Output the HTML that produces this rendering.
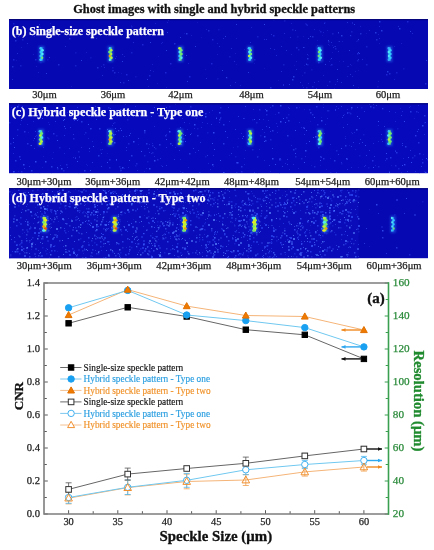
<!DOCTYPE html><html><head><meta charset="utf-8"><style>html,body{margin:0;padding:0;background:#fff;width:434px;height:550px;overflow:hidden}svg{display:block;filter:blur(0.3px)}</style></head><body>
<svg width="434" height="550" viewBox="0 0 434 550" font-family='"Liberation Serif","Times New Roman",serif'>
<defs><filter id="bl" x="-50%" y="-50%" width="200%" height="200%"><feGaussianBlur stdDeviation="0.7"/></filter><filter id="bl2" x="-50%" y="-50%" width="200%" height="200%"><feGaussianBlur stdDeviation="0.5"/></filter><filter id="bln" x="-50%" y="-50%" width="200%" height="200%"><feGaussianBlur stdDeviation="0.6"/></filter><filter id="bl3" x="-50%" y="-50%" width="200%" height="200%"><feGaussianBlur stdDeviation="1.3"/></filter><clipPath id="cb"><rect x="9" y="19" width="419" height="70"/></clipPath><clipPath id="cc"><rect x="9" y="103.2" width="419" height="70"/></clipPath><clipPath id="cd"><rect x="9" y="188.2" width="419" height="70"/></clipPath></defs>
<text x="214.2" y="12.9" font-size="12.4" font-weight="bold" text-anchor="middle" fill="#111" stroke="#111" stroke-width="0.3">Ghost images with single and hybrid speckle patterns</text>
<rect x="9" y="19" width="419" height="70" fill="#0608b2"/>
<g clip-path="url(#cb)"><g filter="url(#bln)">
<path fill="#3040f0" fill-opacity="0.25" d="M32 30h1.5v1.5h-1.5zM16 60h1v1h-1zM47 59h1.5v1.5h-1.5zM40 62h1.5v1.5h-1.5zM75 52h1.5v1.5h-1.5zM21 27h1v1h-1zM71 86h1v1h-1zM43 47h1v1h-1zM40 27h1v1h-1zM112 67h1.5v1.5h-1.5zM135 76h1.5v1.5h-1.5zM131 25h1v1h-1zM90 57h1.5v1.5h-1.5zM121 73h1v1h-1zM157 83h1v1h-1zM158 56h1v1h-1zM217 78h1.5v1.5h-1.5zM201 37h1v1h-1zM197 22h1v1h-1zM184 33h1v1h-1zM218 29h1.5v1.5h-1.5zM205 69h1v1h-1zM264 68h1v1h-1zM254 63h1v1h-1zM278 80h1v1h-1zM273 19h1.5v1.5h-1.5zM236 64h1v1h-1zM322 35h1v1h-1zM338 41h1v1h-1zM302 75h1v1h-1zM356 41h1v1h-1zM339 61h1v1h-1zM358 87h1v1h-1zM303 36h1v1h-1zM334 88h1v1h-1zM350 35h1.5v1.5h-1.5zM330 65h1v1h-1zM319 30h1v1h-1zM329 45h1v1h-1zM332 45h1v1h-1zM308 55h1v1h-1zM297 36h1.5v1.5h-1.5zM320 50h1.5v1.5h-1.5zM324 22h1.5v1.5h-1.5zM311 69h1.5v1.5h-1.5zM351 65h1v1h-1zM358 70h1v1h-1zM319 55h1v1h-1zM304 65h1v1h-1zM317 40h1v1h-1zM332 52h1v1h-1zM305 23h1.5v1.5h-1.5zM294 65h1v1h-1zM357 40h1.5v1.5h-1.5zM330 59h1v1h-1zM403 68h1.5v1.5h-1.5zM366 33h1v1h-1zM377 86h1.5v1.5h-1.5z"/>
<path fill="#3040f0" fill-opacity="0.55" d="M39 24h1v1h-1zM13 59h1.5v1.5h-1.5zM49 32h1.5v1.5h-1.5zM34 36h1v1h-1zM35 59h1.5v1.5h-1.5zM104 67h1v1h-1zM142 44h1.5v1.5h-1.5zM133 42h1v1h-1zM115 58h1v1h-1zM96 38h1v1h-1zM122 54h1v1h-1zM126 74h1.5v1.5h-1.5zM150 70h1v1h-1zM170 63h1.5v1.5h-1.5zM211 63h1.5v1.5h-1.5zM189 76h1.5v1.5h-1.5zM149 75h1.5v1.5h-1.5zM165 72h1.5v1.5h-1.5zM212 39h1.5v1.5h-1.5zM223 38h1v1h-1zM283 84h1v1h-1zM276 55h1v1h-1zM284 33h1v1h-1zM274 49h1v1h-1zM283 85h1v1h-1zM264 39h1v1h-1zM273 35h1.5v1.5h-1.5zM234 61h1v1h-1zM314 82h1v1h-1zM318 62h1.5v1.5h-1.5zM316 88h1v1h-1zM296 47h1.5v1.5h-1.5zM331 64h1.5v1.5h-1.5zM337 81h1v1h-1zM357 53h1.5v1.5h-1.5zM338 51h1v1h-1zM324 23h1v1h-1zM290 37h1v1h-1zM407 21h1.5v1.5h-1.5zM412 33h1v1h-1zM425 83h1.5v1.5h-1.5zM379 26h1v1h-1zM362 59h1v1h-1zM369 30h1v1h-1zM379 38h1v1h-1zM386 74h1.5v1.5h-1.5z"/>
<path fill="#4060ff" fill-opacity="0.25" d="M50 23h1v1h-1zM33 54h1v1h-1zM21 47h1v1h-1zM14 34h1.5v1.5h-1.5zM148 86h1v1h-1zM86 52h1v1h-1zM137 34h1v1h-1zM101 66h1v1h-1zM131 26h1.5v1.5h-1.5zM103 33h1.5v1.5h-1.5zM191 35h1v1h-1zM166 87h1v1h-1zM153 71h1v1h-1zM217 54h1v1h-1zM284 20h1.5v1.5h-1.5zM229 56h1.5v1.5h-1.5zM244 49h1v1h-1zM236 38h1v1h-1zM235 53h1v1h-1zM254 59h1.5v1.5h-1.5zM226 77h1.5v1.5h-1.5zM283 64h1.5v1.5h-1.5zM304 72h1.5v1.5h-1.5zM302 85h1v1h-1zM300 19h1v1h-1zM342 41h1v1h-1zM338 33h1v1h-1zM306 63h1v1h-1zM327 30h1v1h-1zM296 61h1v1h-1zM317 45h1v1h-1zM291 54h1v1h-1zM328 44h1v1h-1zM334 46h1v1h-1zM292 29h1.5v1.5h-1.5zM332 33h1.5v1.5h-1.5zM347 66h1v1h-1zM347 76h1v1h-1zM306 87h1.5v1.5h-1.5zM351 31h1.5v1.5h-1.5zM329 61h1v1h-1zM355 71h1v1h-1zM379 43h1v1h-1zM378 81h1v1h-1z"/>
<path fill="#4060ff" fill-opacity="0.4" d="M12 79h1v1h-1zM15 40h1.5v1.5h-1.5zM12 66h1.5v1.5h-1.5zM58 64h1.5v1.5h-1.5zM18 36h1v1h-1zM69 38h1.5v1.5h-1.5zM65 46h1v1h-1zM27 43h1v1h-1zM17 53h1v1h-1zM97 67h1.5v1.5h-1.5zM102 75h1v1h-1zM114 72h1.5v1.5h-1.5zM108 28h1.5v1.5h-1.5zM174 43h1.5v1.5h-1.5zM206 78h1v1h-1zM150 89h1.5v1.5h-1.5zM208 30h1.5v1.5h-1.5zM266 39h1v1h-1zM286 50h1v1h-1zM235 82h1v1h-1zM230 85h1v1h-1zM270 48h1v1h-1zM277 19h1v1h-1zM231 48h1v1h-1zM270 87h1.5v1.5h-1.5zM250 42h1v1h-1zM281 71h1v1h-1zM271 34h1v1h-1zM281 46h1v1h-1zM219 46h1v1h-1zM335 46h1v1h-1zM341 82h1v1h-1zM339 41h1v1h-1zM296 69h1v1h-1zM331 42h1v1h-1zM350 35h1v1h-1zM295 30h1v1h-1zM347 22h1v1h-1zM300 82h1v1h-1zM307 54h1v1h-1zM333 47h1v1h-1zM358 59h1v1h-1zM350 74h1v1h-1zM312 36h1.5v1.5h-1.5zM376 39h1.5v1.5h-1.5zM389 73h1.5v1.5h-1.5zM398 26h1v1h-1zM360 33h1.5v1.5h-1.5z"/>
<path fill="#3040f0" fill-opacity="0.4" d="M13 23h1.5v1.5h-1.5zM38 72h1v1h-1zM36 66h1v1h-1zM20 65h1.5v1.5h-1.5zM22 39h1.5v1.5h-1.5zM75 65h1.5v1.5h-1.5zM113 70h1v1h-1zM123 82h1.5v1.5h-1.5zM103 64h1.5v1.5h-1.5zM131 52h1.5v1.5h-1.5zM124 56h1v1h-1zM116 56h1v1h-1zM112 70h1.5v1.5h-1.5zM118 72h1v1h-1zM138 29h1v1h-1zM125 29h1v1h-1zM167 22h1v1h-1zM155 23h1v1h-1zM168 20h1v1h-1zM161 43h1v1h-1zM217 43h1v1h-1zM162 42h1v1h-1zM206 29h1v1h-1zM152 64h1v1h-1zM188 63h1v1h-1zM264 24h1v1h-1zM251 27h1v1h-1zM257 36h1.5v1.5h-1.5zM240 85h1v1h-1zM350 64h1v1h-1zM335 84h1v1h-1zM323 32h1v1h-1zM352 23h1v1h-1zM303 87h1v1h-1zM340 89h1v1h-1zM318 81h1v1h-1zM291 23h1v1h-1zM312 86h1.5v1.5h-1.5zM352 76h1v1h-1zM343 61h1v1h-1zM306 24h1.5v1.5h-1.5zM307 25h1v1h-1zM348 66h1v1h-1zM308 83h1v1h-1zM357 60h1.5v1.5h-1.5zM314 29h1v1h-1zM335 48h1.5v1.5h-1.5zM323 75h1v1h-1zM304 47h1v1h-1zM298 49h1.5v1.5h-1.5zM329 81h1.5v1.5h-1.5zM320 31h1.5v1.5h-1.5zM352 22h1v1h-1zM327 85h1v1h-1zM307 64h1.5v1.5h-1.5zM328 41h1.5v1.5h-1.5zM360 26h1v1h-1zM394 79h1v1h-1zM370 19h1v1h-1zM378 34h1v1h-1zM366 64h1.5v1.5h-1.5zM387 47h1.5v1.5h-1.5zM394 46h1v1h-1zM396 72h1.5v1.5h-1.5zM401 43h1v1h-1zM366 46h1.5v1.5h-1.5z"/>
<path fill="#4060ff" fill-opacity="0.55" d="M46 73h1v1h-1zM49 57h1v1h-1zM101 29h1v1h-1zM147 79h1v1h-1zM81 60h1v1h-1zM122 61h1v1h-1zM120 82h1v1h-1zM111 56h1v1h-1zM128 80h1v1h-1zM137 30h1v1h-1zM150 42h1v1h-1zM186 55h1v1h-1zM167 32h1v1h-1zM186 33h1.5v1.5h-1.5zM166 50h1v1h-1zM187 81h1v1h-1zM195 46h1v1h-1zM180 37h1v1h-1zM236 24h1v1h-1zM226 77h1v1h-1zM222 70h1v1h-1zM264 24h1v1h-1zM225 36h1v1h-1zM248 72h1v1h-1zM358 39h1v1h-1zM337 69h1v1h-1zM338 32h1v1h-1zM289 84h1v1h-1zM308 38h1v1h-1zM349 50h1v1h-1zM331 58h1v1h-1zM310 36h1v1h-1zM358 52h1v1h-1zM354 24h1v1h-1zM303 47h1v1h-1zM292 79h1.5v1.5h-1.5zM306 64h1v1h-1zM341 35h1.5v1.5h-1.5zM328 40h1v1h-1zM293 76h1.5v1.5h-1.5zM325 64h1v1h-1zM339 19h1v1h-1zM353 85h1v1h-1zM307 58h1.5v1.5h-1.5zM337 79h1v1h-1zM359 53h1v1h-1zM426 60h1v1h-1zM381 30h1.5v1.5h-1.5zM410 31h1v1h-1zM399 28h1.5v1.5h-1.5zM375 32h1.5v1.5h-1.5zM379 21h1.5v1.5h-1.5zM387 71h1.5v1.5h-1.5z"/>
</g>
<g filter="url(#bl3)">
<rect x="38.6" y="46.0" width="5.8" height="16.0" fill="#2c8cff" opacity="0.45"/>
<rect x="107.6" y="46.0" width="5.8" height="16.0" fill="#2c8cff" opacity="0.45"/>
<rect x="177.6" y="46.0" width="5.8" height="16.0" fill="#2c8cff" opacity="0.45"/>
<rect x="247.1" y="46.0" width="5.8" height="16.0" fill="#2c8cff" opacity="0.45"/>
<rect x="316.8" y="46.0" width="5.8" height="16.0" fill="#2c8cff" opacity="0.45"/>
<rect x="386.6" y="46.0" width="5.8" height="16.0" fill="#2c8cff" opacity="0.45"/>
</g><g filter="url(#bl)">
<rect x="40.4" y="47.4" width="2.2" height="13.2" fill="#30c8ff"/>
<rect x="109.4" y="47.4" width="2.2" height="13.2" fill="#70e870"/>
<rect x="179.4" y="47.4" width="2.2" height="13.2" fill="#70e870"/>
<rect x="248.9" y="47.4" width="2.2" height="13.2" fill="#30c8ff"/>
<rect x="318.6" y="47.4" width="2.2" height="13.2" fill="#30c8ff"/>
<rect x="388.4" y="47.4" width="2.2" height="13.2" fill="#30c8ff"/>
</g><g filter="url(#bl2)">
<ellipse cx="40.6" cy="48.3" rx="1.2" ry="1.25" fill="#30c8ff"/>
<ellipse cx="42.6" cy="50.2" rx="1.2" ry="1.25" fill="#50e8f8"/>
<ellipse cx="40.7" cy="52.1" rx="1.3" ry="1.25" fill="#30c8ff"/>
<ellipse cx="42.5" cy="54.0" rx="1.2" ry="1.25" fill="#50e8f8"/>
<ellipse cx="40.5" cy="55.9" rx="1.1" ry="1.25" fill="#30c8ff"/>
<ellipse cx="42.2" cy="57.8" rx="1.1" ry="1.25" fill="#70e870"/>
<ellipse cx="40.5" cy="59.7" rx="1.2" ry="1.25" fill="#30c8ff"/>
<ellipse cx="109.8" cy="48.3" rx="1.1" ry="1.25" fill="#30c8ff"/>
<ellipse cx="111.4" cy="50.2" rx="1.2" ry="1.25" fill="#b8f040"/>
<ellipse cx="109.4" cy="52.1" rx="1.3" ry="1.25" fill="#70e870"/>
<ellipse cx="111.4" cy="54.0" rx="1.0" ry="1.25" fill="#b8f040"/>
<ellipse cx="109.8" cy="55.9" rx="1.2" ry="1.25" fill="#f0a010"/>
<ellipse cx="111.5" cy="57.8" rx="1.3" ry="1.25" fill="#b8f040"/>
<ellipse cx="109.8" cy="59.7" rx="1.1" ry="1.25" fill="#50e8f8"/>
<ellipse cx="179.4" cy="48.3" rx="1.2" ry="1.25" fill="#b8f040"/>
<ellipse cx="181.6" cy="50.2" rx="1.0" ry="1.25" fill="#70e870"/>
<ellipse cx="179.5" cy="52.1" rx="1.1" ry="1.25" fill="#50e8f8"/>
<ellipse cx="181.5" cy="54.0" rx="1.3" ry="1.25" fill="#70e870"/>
<ellipse cx="179.4" cy="55.9" rx="1.1" ry="1.25" fill="#30c8ff"/>
<ellipse cx="181.6" cy="57.8" rx="1.1" ry="1.25" fill="#50e8f8"/>
<ellipse cx="179.5" cy="59.7" rx="1.1" ry="1.25" fill="#30c8ff"/>
<ellipse cx="248.9" cy="48.3" rx="1.2" ry="1.25" fill="#30c8ff"/>
<ellipse cx="250.8" cy="50.2" rx="1.1" ry="1.25" fill="#70e870"/>
<ellipse cx="249.2" cy="52.1" rx="1.1" ry="1.25" fill="#50e8f8"/>
<ellipse cx="251.1" cy="54.0" rx="1.1" ry="1.25" fill="#70e870"/>
<ellipse cx="249.1" cy="55.9" rx="1.3" ry="1.25" fill="#b8f040"/>
<ellipse cx="251.0" cy="57.8" rx="1.2" ry="1.25" fill="#50e8f8"/>
<ellipse cx="249.2" cy="59.7" rx="1.1" ry="1.25" fill="#30c8ff"/>
<ellipse cx="318.7" cy="48.3" rx="1.0" ry="1.25" fill="#30c8ff"/>
<ellipse cx="320.4" cy="50.2" rx="1.3" ry="1.25" fill="#50e8f8"/>
<ellipse cx="318.9" cy="52.1" rx="1.2" ry="1.25" fill="#70e870"/>
<ellipse cx="320.6" cy="54.0" rx="1.0" ry="1.25" fill="#30c8ff"/>
<ellipse cx="318.7" cy="55.9" rx="1.1" ry="1.25" fill="#70e870"/>
<ellipse cx="320.8" cy="57.8" rx="1.3" ry="1.25" fill="#50e8f8"/>
<ellipse cx="319.0" cy="59.7" rx="1.3" ry="1.25" fill="#30c8ff"/>
<ellipse cx="388.6" cy="48.3" rx="1.0" ry="1.25" fill="#30a8ff"/>
<ellipse cx="390.6" cy="50.2" rx="1.0" ry="1.25" fill="#30c8ff"/>
<ellipse cx="388.7" cy="52.1" rx="1.1" ry="1.25" fill="#50e8f8"/>
<ellipse cx="390.5" cy="54.0" rx="1.2" ry="1.25" fill="#30c8ff"/>
<ellipse cx="388.8" cy="55.9" rx="1.0" ry="1.25" fill="#50e8f8"/>
<ellipse cx="390.5" cy="57.8" rx="1.2" ry="1.25" fill="#30c8ff"/>
<ellipse cx="388.7" cy="59.7" rx="1.1" ry="1.25" fill="#30a8ff"/>
</g></g>
<rect x="9" y="19" width="419" height="1.2" fill="#04047c"/>
<text x="11.8" y="34.5" font-size="11.95" font-weight="bold" fill="#fff" stroke="#fff" stroke-width="0.25">(b) Single-size speckle pattern</text>
<rect x="9" y="103.2" width="419" height="70" fill="#060abc"/>
<g clip-path="url(#cc)"><g filter="url(#bln)">
<path fill="#3040f0" fill-opacity="0.5" d="M79 156h1v1h-1zM35 136h1v1h-1zM33 121h1v1h-1zM60 165h1v1h-1zM10 143h1.5v1.5h-1.5zM51 173h1v1h-1zM18 104h1.5v1.5h-1.5zM58 113h1.5v1.5h-1.5zM11 107h1v1h-1zM21 171h1.5v1.5h-1.5zM73 157h1v1h-1zM66 164h1.5v1.5h-1.5zM73 138h1.5v1.5h-1.5zM75 157h1v1h-1zM36 135h1v1h-1zM78 119h1v1h-1zM30 145h1v1h-1zM13 153h1v1h-1zM49 124h1v1h-1zM67 112h1v1h-1zM109 167h1.5v1.5h-1.5zM128 143h1.5v1.5h-1.5zM116 131h1v1h-1zM136 163h1.5v1.5h-1.5zM135 106h1v1h-1zM115 134h1v1h-1zM112 125h1v1h-1zM113 123h1v1h-1zM128 167h1v1h-1zM79 157h1v1h-1zM137 170h1v1h-1zM108 107h1.5v1.5h-1.5zM80 103h1v1h-1zM115 113h1.5v1.5h-1.5zM81 147h1v1h-1zM126 150h1v1h-1zM102 149h1v1h-1zM95 106h1v1h-1zM96 112h1.5v1.5h-1.5zM151 153h1v1h-1zM195 152h1v1h-1zM213 155h1v1h-1zM157 159h1.5v1.5h-1.5zM207 123h1v1h-1zM196 118h1v1h-1zM154 156h1v1h-1zM194 128h1v1h-1zM183 138h1.5v1.5h-1.5zM175 104h1v1h-1zM201 127h1v1h-1zM152 145h1.5v1.5h-1.5zM154 126h1v1h-1zM190 106h1.5v1.5h-1.5zM210 169h1v1h-1zM270 139h1.5v1.5h-1.5zM259 109h1.5v1.5h-1.5zM277 126h1v1h-1zM220 118h1v1h-1zM279 158h1.5v1.5h-1.5zM286 117h1.5v1.5h-1.5zM241 133h1v1h-1zM241 171h1.5v1.5h-1.5zM244 118h1v1h-1zM285 163h1v1h-1zM229 121h1v1h-1zM253 109h1v1h-1zM341 162h1v1h-1zM324 133h1v1h-1zM323 104h1v1h-1zM327 118h1v1h-1zM351 167h1v1h-1zM291 145h1v1h-1zM295 148h1.5v1.5h-1.5zM347 109h1v1h-1zM299 122h1v1h-1zM305 156h1v1h-1zM318 147h1.5v1.5h-1.5zM338 108h1v1h-1zM293 164h1v1h-1zM347 159h1v1h-1zM323 104h1v1h-1zM317 124h1.5v1.5h-1.5zM336 106h1v1h-1zM330 144h1v1h-1zM395 165h1.5v1.5h-1.5zM416 111h1.5v1.5h-1.5zM402 111h1v1h-1zM364 166h1v1h-1zM415 135h1v1h-1zM415 171h1v1h-1zM373 143h1v1h-1zM365 165h1v1h-1zM424 134h1v1h-1zM382 108h1v1h-1zM373 107h1.5v1.5h-1.5z"/>
<path fill="#4060ff" fill-opacity="0.7" d="M64 119h1v1h-1zM57 140h1v1h-1zM34 138h1v1h-1zM64 126h1v1h-1zM17 106h1.5v1.5h-1.5zM13 138h1v1h-1zM35 161h1.5v1.5h-1.5zM45 161h1.5v1.5h-1.5zM61 168h1.5v1.5h-1.5zM31 145h1v1h-1zM13 171h1.5v1.5h-1.5zM77 161h1v1h-1zM77 120h1v1h-1zM57 167h1v1h-1zM42 118h1v1h-1zM63 120h1v1h-1zM41 109h1v1h-1zM23 164h1.5v1.5h-1.5zM14 147h1v1h-1zM89 148h1v1h-1zM93 108h1v1h-1zM115 128h1v1h-1zM129 160h1v1h-1zM144 130h1.5v1.5h-1.5zM107 162h1v1h-1zM108 131h1v1h-1zM122 167h1.5v1.5h-1.5zM88 124h1v1h-1zM129 135h1v1h-1zM90 170h1v1h-1zM93 146h1v1h-1zM121 130h1v1h-1zM116 159h1v1h-1zM133 141h1.5v1.5h-1.5zM116 110h1v1h-1zM113 134h1.5v1.5h-1.5zM141 151h1v1h-1zM114 142h1.5v1.5h-1.5zM107 129h1v1h-1zM216 118h1v1h-1zM190 134h1v1h-1zM185 141h1v1h-1zM169 131h1.5v1.5h-1.5zM213 132h1.5v1.5h-1.5zM180 127h1v1h-1zM149 168h1.5v1.5h-1.5zM214 149h1v1h-1zM175 103h1v1h-1zM212 164h1.5v1.5h-1.5zM154 160h1.5v1.5h-1.5zM194 124h1.5v1.5h-1.5zM151 116h1v1h-1zM194 116h1v1h-1zM212 143h1v1h-1zM185 135h1v1h-1zM166 139h1v1h-1zM205 116h1.5v1.5h-1.5zM175 113h1.5v1.5h-1.5zM269 127h1v1h-1zM243 136h1v1h-1zM275 164h1v1h-1zM283 118h1v1h-1zM280 105h1.5v1.5h-1.5zM259 119h1v1h-1zM272 158h1.5v1.5h-1.5zM220 160h1v1h-1zM280 121h1.5v1.5h-1.5zM279 173h1v1h-1zM266 110h1.5v1.5h-1.5zM254 119h1v1h-1zM285 122h1v1h-1zM264 141h1v1h-1zM247 142h1.5v1.5h-1.5zM264 136h1.5v1.5h-1.5zM223 172h1.5v1.5h-1.5zM237 162h1.5v1.5h-1.5zM225 131h1v1h-1zM219 112h1.5v1.5h-1.5zM357 116h1v1h-1zM295 130h1v1h-1zM306 130h1v1h-1zM315 136h1.5v1.5h-1.5zM304 162h1v1h-1zM313 137h1v1h-1zM314 117h1v1h-1zM295 153h1v1h-1zM346 158h1.5v1.5h-1.5zM321 120h1.5v1.5h-1.5zM351 107h1.5v1.5h-1.5zM305 150h1.5v1.5h-1.5zM304 128h1v1h-1zM320 160h1v1h-1zM356 129h1.5v1.5h-1.5zM341 148h1v1h-1zM309 141h1v1h-1zM426 158h1v1h-1zM373 167h1v1h-1zM386 153h1v1h-1zM365 145h1v1h-1zM387 143h1v1h-1zM404 164h1v1h-1zM408 157h1v1h-1zM422 125h1.5v1.5h-1.5zM419 173h1v1h-1zM404 121h1v1h-1zM411 162h1v1h-1zM373 104h1v1h-1zM425 172h1.5v1.5h-1.5zM402 165h1v1h-1zM389 172h1v1h-1zM378 121h1v1h-1z"/>
<path fill="#4060ff" fill-opacity="0.3" d="M78 151h1.5v1.5h-1.5zM20 124h1v1h-1zM52 158h1v1h-1zM43 107h1.5v1.5h-1.5zM57 168h1.5v1.5h-1.5zM59 147h1.5v1.5h-1.5zM27 124h1v1h-1zM47 109h1v1h-1zM48 138h1.5v1.5h-1.5zM9 122h1.5v1.5h-1.5zM47 137h1.5v1.5h-1.5zM33 173h1v1h-1zM64 153h1v1h-1zM63 170h1.5v1.5h-1.5zM14 171h1v1h-1zM17 129h1.5v1.5h-1.5zM17 135h1v1h-1zM115 134h1v1h-1zM85 132h1.5v1.5h-1.5zM98 116h1v1h-1zM119 166h1.5v1.5h-1.5zM144 155h1.5v1.5h-1.5zM88 138h1v1h-1zM126 136h1v1h-1zM89 151h1v1h-1zM146 168h1v1h-1zM120 168h1.5v1.5h-1.5zM127 119h1.5v1.5h-1.5zM92 141h1v1h-1zM144 132h1.5v1.5h-1.5zM118 130h1.5v1.5h-1.5zM120 170h1.5v1.5h-1.5zM121 170h1v1h-1zM209 112h1v1h-1zM212 110h1v1h-1zM191 133h1v1h-1zM152 152h1.5v1.5h-1.5zM182 172h1.5v1.5h-1.5zM199 172h1.5v1.5h-1.5zM187 129h1v1h-1zM152 143h1v1h-1zM182 118h1v1h-1zM208 163h1v1h-1zM166 134h1v1h-1zM216 117h1v1h-1zM175 147h1v1h-1zM188 167h1v1h-1zM167 117h1.5v1.5h-1.5zM180 159h1v1h-1zM202 122h1v1h-1zM173 114h1v1h-1zM149 144h1v1h-1zM280 158h1v1h-1zM250 134h1.5v1.5h-1.5zM259 149h1v1h-1zM257 156h1.5v1.5h-1.5zM220 107h1.5v1.5h-1.5zM264 132h1v1h-1zM288 107h1v1h-1zM256 122h1.5v1.5h-1.5zM252 149h1.5v1.5h-1.5zM236 172h1.5v1.5h-1.5zM263 119h1v1h-1zM268 120h1v1h-1zM276 123h1v1h-1zM244 158h1v1h-1zM270 107h1v1h-1zM254 172h1v1h-1zM266 114h1.5v1.5h-1.5zM244 164h1v1h-1zM220 117h1.5v1.5h-1.5zM264 160h1v1h-1zM245 150h1v1h-1zM277 132h1v1h-1zM257 157h1v1h-1zM295 156h1.5v1.5h-1.5zM350 113h1.5v1.5h-1.5zM298 168h1v1h-1zM289 108h1v1h-1zM336 150h1.5v1.5h-1.5zM312 114h1.5v1.5h-1.5zM327 110h1.5v1.5h-1.5zM301 127h1v1h-1zM325 124h1v1h-1zM301 158h1.5v1.5h-1.5zM354 132h1v1h-1zM345 138h1v1h-1zM352 133h1v1h-1zM309 109h1.5v1.5h-1.5zM336 172h1v1h-1zM289 169h1v1h-1zM314 166h1.5v1.5h-1.5zM323 107h1v1h-1zM378 166h1.5v1.5h-1.5zM403 158h1v1h-1zM378 141h1v1h-1zM418 112h1v1h-1zM395 150h1v1h-1zM382 108h1.5v1.5h-1.5zM427 159h1.5v1.5h-1.5zM395 112h1v1h-1zM386 139h1.5v1.5h-1.5zM389 171h1v1h-1zM414 155h1.5v1.5h-1.5zM422 159h1v1h-1zM395 121h1v1h-1zM385 160h1v1h-1zM359 118h1v1h-1zM398 168h1.5v1.5h-1.5zM409 107h1v1h-1zM381 139h1v1h-1zM378 125h1v1h-1zM418 105h1v1h-1zM412 157h1.5v1.5h-1.5z"/>
<path fill="#4060ff" fill-opacity="0.5" d="M65 128h1v1h-1zM69 116h1v1h-1zM42 143h1v1h-1zM31 170h1.5v1.5h-1.5zM20 159h1v1h-1zM75 158h1v1h-1zM51 166h1.5v1.5h-1.5zM15 160h1.5v1.5h-1.5zM24 168h1v1h-1zM13 142h1v1h-1zM35 131h1v1h-1zM98 155h1.5v1.5h-1.5zM110 108h1v1h-1zM131 155h1.5v1.5h-1.5zM146 143h1.5v1.5h-1.5zM99 128h1.5v1.5h-1.5zM138 138h1v1h-1zM120 109h1.5v1.5h-1.5zM81 121h1.5v1.5h-1.5zM130 133h1v1h-1zM131 110h1v1h-1zM84 170h1.5v1.5h-1.5zM101 153h1v1h-1zM101 166h1v1h-1zM118 130h1v1h-1zM137 112h1v1h-1zM90 128h1.5v1.5h-1.5zM174 159h1v1h-1zM189 153h1.5v1.5h-1.5zM166 107h1v1h-1zM180 111h1v1h-1zM207 155h1v1h-1zM154 107h1v1h-1zM182 141h1.5v1.5h-1.5zM170 143h1.5v1.5h-1.5zM159 144h1.5v1.5h-1.5zM154 147h1v1h-1zM181 144h1v1h-1zM200 113h1v1h-1zM193 148h1v1h-1zM223 124h1.5v1.5h-1.5zM242 138h1v1h-1zM287 135h1.5v1.5h-1.5zM282 166h1v1h-1zM223 143h1.5v1.5h-1.5zM272 148h1v1h-1zM287 159h1v1h-1zM257 173h1v1h-1zM238 116h1v1h-1zM287 164h1v1h-1zM288 120h1.5v1.5h-1.5zM265 140h1.5v1.5h-1.5zM235 129h1v1h-1zM231 153h1v1h-1zM245 106h1v1h-1zM272 130h1.5v1.5h-1.5zM272 105h1.5v1.5h-1.5zM345 145h1.5v1.5h-1.5zM338 154h1v1h-1zM343 115h1v1h-1zM343 127h1v1h-1zM351 146h1v1h-1zM335 109h1v1h-1zM293 149h1.5v1.5h-1.5zM341 106h1v1h-1zM334 160h1.5v1.5h-1.5zM384 126h1v1h-1zM396 152h1.5v1.5h-1.5zM410 111h1.5v1.5h-1.5zM417 131h1v1h-1zM421 166h1v1h-1zM390 157h1.5v1.5h-1.5zM360 139h1v1h-1zM402 143h1v1h-1zM366 155h1v1h-1zM418 129h1v1h-1zM359 118h1v1h-1zM362 142h1v1h-1zM405 146h1.5v1.5h-1.5zM382 141h1v1h-1zM370 106h1.5v1.5h-1.5zM401 115h1v1h-1z"/>
<path fill="#3040f0" fill-opacity="0.7" d="M43 147h1v1h-1zM67 167h1v1h-1zM55 121h1v1h-1zM24 131h1.5v1.5h-1.5zM34 148h1v1h-1zM70 127h1v1h-1zM22 106h1v1h-1zM73 134h1v1h-1zM53 133h1.5v1.5h-1.5zM74 120h1v1h-1zM64 135h1v1h-1zM69 148h1v1h-1zM27 143h1.5v1.5h-1.5zM19 156h1.5v1.5h-1.5zM21 120h1v1h-1zM77 107h1v1h-1zM29 166h1v1h-1zM92 162h1v1h-1zM93 109h1.5v1.5h-1.5zM126 147h1v1h-1zM123 136h1v1h-1zM125 104h1v1h-1zM133 114h1v1h-1zM130 111h1.5v1.5h-1.5zM120 128h1v1h-1zM116 160h1v1h-1zM148 148h1v1h-1zM109 159h1.5v1.5h-1.5zM96 119h1v1h-1zM165 135h1v1h-1zM162 166h1v1h-1zM171 119h1v1h-1zM200 142h1v1h-1zM160 158h1v1h-1zM198 150h1v1h-1zM149 152h1v1h-1zM198 113h1.5v1.5h-1.5zM166 147h1v1h-1zM202 115h1v1h-1zM211 124h1v1h-1zM183 134h1v1h-1zM179 150h1v1h-1zM165 135h1.5v1.5h-1.5zM205 113h1.5v1.5h-1.5zM157 113h1v1h-1zM172 145h1v1h-1zM197 135h1.5v1.5h-1.5zM166 165h1v1h-1zM184 122h1v1h-1zM219 122h1v1h-1zM279 159h1.5v1.5h-1.5zM248 141h1.5v1.5h-1.5zM228 107h1v1h-1zM241 166h1.5v1.5h-1.5zM269 165h1v1h-1zM227 137h1v1h-1zM219 119h1.5v1.5h-1.5zM243 118h1v1h-1zM265 109h1v1h-1zM266 126h1v1h-1zM250 137h1v1h-1zM236 162h1.5v1.5h-1.5zM262 129h1v1h-1zM278 112h1.5v1.5h-1.5zM249 138h1v1h-1zM270 131h1v1h-1zM303 127h1.5v1.5h-1.5zM310 112h1.5v1.5h-1.5zM353 142h1v1h-1zM304 134h1v1h-1zM347 113h1v1h-1zM347 124h1v1h-1zM347 112h1.5v1.5h-1.5zM321 157h1v1h-1zM316 106h1.5v1.5h-1.5zM335 110h1v1h-1zM306 143h1v1h-1zM296 107h1.5v1.5h-1.5zM342 117h1v1h-1zM323 158h1.5v1.5h-1.5zM347 169h1v1h-1zM357 107h1v1h-1zM320 156h1.5v1.5h-1.5zM395 151h1v1h-1zM381 134h1v1h-1zM424 115h1.5v1.5h-1.5zM419 153h1.5v1.5h-1.5zM359 143h1v1h-1zM369 150h1v1h-1zM425 122h1v1h-1zM376 105h1v1h-1zM404 164h1.5v1.5h-1.5zM386 158h1.5v1.5h-1.5zM369 104h1v1h-1zM372 160h1.5v1.5h-1.5zM418 142h1.5v1.5h-1.5zM402 145h1v1h-1zM415 135h1.5v1.5h-1.5zM410 150h1v1h-1zM364 111h1v1h-1zM390 132h1v1h-1zM422 162h1.5v1.5h-1.5zM407 171h1v1h-1zM374 156h1v1h-1zM389 111h1v1h-1z"/>
<path fill="#3040f0" fill-opacity="0.3" d="M53 104h1v1h-1zM48 122h1v1h-1zM43 138h1v1h-1zM39 173h1.5v1.5h-1.5zM43 156h1v1h-1zM18 171h1v1h-1zM53 152h1v1h-1zM56 135h1.5v1.5h-1.5zM18 171h1v1h-1zM42 144h1v1h-1zM48 131h1v1h-1zM33 140h1v1h-1zM13 142h1v1h-1zM42 167h1v1h-1zM28 132h1v1h-1zM78 173h1v1h-1zM114 122h1.5v1.5h-1.5zM144 171h1v1h-1zM113 139h1v1h-1zM147 119h1v1h-1zM101 142h1v1h-1zM86 164h1v1h-1zM87 165h1v1h-1zM84 134h1v1h-1zM135 165h1.5v1.5h-1.5zM100 149h1.5v1.5h-1.5zM124 168h1v1h-1zM147 161h1.5v1.5h-1.5zM138 144h1v1h-1zM87 114h1v1h-1zM110 130h1v1h-1zM107 153h1v1h-1zM91 128h1v1h-1zM177 139h1.5v1.5h-1.5zM176 109h1v1h-1zM205 156h1.5v1.5h-1.5zM197 128h1.5v1.5h-1.5zM169 106h1.5v1.5h-1.5zM155 148h1.5v1.5h-1.5zM207 132h1.5v1.5h-1.5zM169 128h1v1h-1zM189 123h1v1h-1zM170 116h1.5v1.5h-1.5zM189 109h1v1h-1zM180 171h1v1h-1zM161 165h1v1h-1zM213 166h1v1h-1zM288 114h1.5v1.5h-1.5zM238 138h1v1h-1zM270 171h1v1h-1zM235 156h1.5v1.5h-1.5zM237 146h1.5v1.5h-1.5zM260 135h1.5v1.5h-1.5zM275 114h1v1h-1zM229 155h1v1h-1zM233 147h1v1h-1zM280 159h1.5v1.5h-1.5zM252 119h1.5v1.5h-1.5zM304 109h1v1h-1zM320 165h1v1h-1zM349 112h1.5v1.5h-1.5zM321 117h1v1h-1zM299 107h1v1h-1zM349 145h1v1h-1zM355 149h1v1h-1zM328 110h1.5v1.5h-1.5zM310 121h1v1h-1zM358 167h1v1h-1zM351 109h1v1h-1zM330 158h1v1h-1zM330 172h1.5v1.5h-1.5zM345 136h1v1h-1zM344 114h1v1h-1zM326 169h1v1h-1zM341 163h1.5v1.5h-1.5zM351 132h1v1h-1zM312 114h1v1h-1zM311 165h1v1h-1zM325 103h1v1h-1zM424 122h1.5v1.5h-1.5zM363 134h1.5v1.5h-1.5zM424 171h1.5v1.5h-1.5zM414 118h1v1h-1zM423 154h1v1h-1zM391 165h1v1h-1zM400 108h1v1h-1zM410 106h1v1h-1zM361 107h1.5v1.5h-1.5zM359 155h1.5v1.5h-1.5zM397 128h1.5v1.5h-1.5zM375 165h1v1h-1zM401 172h1v1h-1zM368 167h1.5v1.5h-1.5z"/>
</g>
<g filter="url(#bl3)">
<rect x="38.0" y="129.0" width="6.0" height="17.0" fill="#2c8cff" opacity="0.45"/>
<rect x="107.4" y="129.0" width="6.0" height="17.0" fill="#2c8cff" opacity="0.45"/>
<rect x="177.0" y="129.0" width="6.0" height="17.0" fill="#2c8cff" opacity="0.45"/>
<rect x="247.2" y="129.0" width="6.0" height="17.0" fill="#2c8cff" opacity="0.45"/>
<rect x="317.0" y="129.0" width="6.0" height="17.0" fill="#2c8cff" opacity="0.45"/>
<rect x="386.5" y="129.0" width="6.0" height="17.0" fill="#2c8cff" opacity="0.45"/>
</g><g filter="url(#bl)">
<rect x="39.8" y="130.4" width="2.4" height="14.2" fill="#70e870"/>
<rect x="109.2" y="130.4" width="2.4" height="14.2" fill="#b8f040"/>
<rect x="178.8" y="130.4" width="2.4" height="14.2" fill="#70e870"/>
<rect x="249.0" y="130.4" width="2.4" height="14.2" fill="#70e870"/>
<rect x="318.8" y="130.4" width="2.4" height="14.2" fill="#70e870"/>
<rect x="388.3" y="130.4" width="2.4" height="14.2" fill="#70e870"/>
</g><g filter="url(#bl2)">
<ellipse cx="40.0" cy="131.3" rx="1.4" ry="1.25" fill="#30c8ff"/>
<ellipse cx="41.7" cy="133.4" rx="1.4" ry="1.25" fill="#70e870"/>
<ellipse cx="40.2" cy="135.4" rx="1.3" ry="1.25" fill="#b8f040"/>
<ellipse cx="42.0" cy="137.5" rx="1.3" ry="1.25" fill="#50e8f8"/>
<ellipse cx="39.9" cy="139.6" rx="1.1" ry="1.25" fill="#70e870"/>
<ellipse cx="41.7" cy="141.6" rx="1.2" ry="1.25" fill="#b8f040"/>
<ellipse cx="39.9" cy="143.7" rx="1.3" ry="1.25" fill="#e8e820"/>
<ellipse cx="109.5" cy="131.3" rx="1.1" ry="1.25" fill="#50e8f8"/>
<ellipse cx="111.1" cy="133.4" rx="1.3" ry="1.25" fill="#b8f040"/>
<ellipse cx="109.6" cy="135.4" rx="1.3" ry="1.25" fill="#70e870"/>
<ellipse cx="111.3" cy="137.5" rx="1.4" ry="1.25" fill="#b8f040"/>
<ellipse cx="109.7" cy="139.6" rx="1.2" ry="1.25" fill="#f0a010"/>
<ellipse cx="111.5" cy="141.6" rx="1.2" ry="1.25" fill="#b8f040"/>
<ellipse cx="109.4" cy="143.7" rx="1.3" ry="1.25" fill="#70e870"/>
<ellipse cx="178.9" cy="131.3" rx="1.4" ry="1.25" fill="#50e8f8"/>
<ellipse cx="181.1" cy="133.4" rx="1.4" ry="1.25" fill="#70e870"/>
<ellipse cx="179.1" cy="135.4" rx="1.2" ry="1.25" fill="#b8f040"/>
<ellipse cx="180.8" cy="137.5" rx="1.2" ry="1.25" fill="#30c8ff"/>
<ellipse cx="179.2" cy="139.6" rx="1.1" ry="1.25" fill="#70e870"/>
<ellipse cx="180.8" cy="141.6" rx="1.2" ry="1.25" fill="#50e8f8"/>
<ellipse cx="179.0" cy="143.7" rx="1.3" ry="1.25" fill="#b8f040"/>
<ellipse cx="249.5" cy="131.3" rx="1.1" ry="1.25" fill="#70e870"/>
<ellipse cx="250.9" cy="133.4" rx="1.3" ry="1.25" fill="#b8f040"/>
<ellipse cx="249.4" cy="135.4" rx="1.2" ry="1.25" fill="#30c8ff"/>
<ellipse cx="251.0" cy="137.5" rx="1.1" ry="1.25" fill="#50e8f8"/>
<ellipse cx="249.3" cy="139.6" rx="1.4" ry="1.25" fill="#70e870"/>
<ellipse cx="250.9" cy="141.6" rx="1.2" ry="1.25" fill="#b8f040"/>
<ellipse cx="249.1" cy="143.7" rx="1.3" ry="1.25" fill="#30c8ff"/>
<ellipse cx="318.9" cy="131.3" rx="1.2" ry="1.25" fill="#30c8ff"/>
<ellipse cx="320.8" cy="133.4" rx="1.4" ry="1.25" fill="#70e870"/>
<ellipse cx="319.3" cy="135.4" rx="1.2" ry="1.25" fill="#b8f040"/>
<ellipse cx="320.9" cy="137.5" rx="1.2" ry="1.25" fill="#30c8ff"/>
<ellipse cx="319.0" cy="139.6" rx="1.3" ry="1.25" fill="#50e8f8"/>
<ellipse cx="320.8" cy="141.6" rx="1.1" ry="1.25" fill="#70e870"/>
<ellipse cx="319.2" cy="143.7" rx="1.4" ry="1.25" fill="#50e8f8"/>
<ellipse cx="388.8" cy="131.3" rx="1.1" ry="1.25" fill="#30c8ff"/>
<ellipse cx="390.5" cy="133.4" rx="1.4" ry="1.25" fill="#70e870"/>
<ellipse cx="388.4" cy="135.4" rx="1.3" ry="1.25" fill="#50e8f8"/>
<ellipse cx="390.6" cy="137.5" rx="1.3" ry="1.25" fill="#70e870"/>
<ellipse cx="388.8" cy="139.6" rx="1.2" ry="1.25" fill="#b8f040"/>
<ellipse cx="390.6" cy="141.6" rx="1.2" ry="1.25" fill="#70e870"/>
<ellipse cx="388.4" cy="143.7" rx="1.1" ry="1.25" fill="#30c8ff"/>
</g></g>
<rect x="9" y="103.2" width="419" height="1.2" fill="#04047c"/>
<text x="11.8" y="115.5" font-size="12.05" font-weight="bold" fill="#fff" stroke="#fff" stroke-width="0.25">(c) Hybrid speckle pattern - Type one</text>
<rect x="9" y="188.2" width="419" height="70" fill="#0608b2"/>
<rect x="9" y="188.2" width="349.5" height="70" fill="#0a0cba"/>
<g clip-path="url(#cd)"><g filter="url(#bln)">
<path fill="#5a88ff" fill-opacity="0.25" d="M35 214h1.5v1.5h-1.5zM40 205h1v1h-1zM19 244h1.5v1.5h-1.5zM79 198h1v1h-1zM14 215h1.5v1.5h-1.5zM54 217h1v1h-1zM53 221h1.5v1.5h-1.5zM79 233h1v1h-1zM74 207h1v1h-1zM68 218h1v1h-1zM40 253h1v1h-1zM60 210h2v2h-2zM22 209h1v1h-1zM27 231h1.5v1.5h-1.5zM25 192h1v1h-1zM22 199h1.5v1.5h-1.5zM49 226h1.5v1.5h-1.5zM51 219h1.5v1.5h-1.5zM61 198h2v2h-2zM24 252h1.5v1.5h-1.5zM38 221h1.5v1.5h-1.5zM14 194h1.5v1.5h-1.5zM54 218h2v2h-2zM13 202h1.5v1.5h-1.5zM9 191h1.5v1.5h-1.5zM40 216h1.5v1.5h-1.5zM50 228h1v1h-1zM23 251h1v1h-1zM54 234h1.5v1.5h-1.5zM18 235h1.5v1.5h-1.5zM60 193h1.5v1.5h-1.5zM50 209h1v1h-1zM136 228h2v2h-2zM82 250h1.5v1.5h-1.5zM123 226h1v1h-1zM84 215h2v2h-2zM95 188h1v1h-1zM106 204h2v2h-2zM118 215h1v1h-1zM102 198h1v1h-1zM148 201h1v1h-1zM103 216h1.5v1.5h-1.5zM96 220h2v2h-2zM103 246h1v1h-1zM87 201h1.5v1.5h-1.5zM103 228h1.5v1.5h-1.5zM122 247h1.5v1.5h-1.5zM148 242h1.5v1.5h-1.5zM82 200h2v2h-2zM82 257h1.5v1.5h-1.5zM125 213h1v1h-1zM83 241h1.5v1.5h-1.5zM121 234h1.5v1.5h-1.5zM129 246h1.5v1.5h-1.5zM149 223h1v1h-1zM117 222h2v2h-2zM84 189h1v1h-1zM106 221h1v1h-1zM119 219h1.5v1.5h-1.5zM112 192h1v1h-1zM86 199h2v2h-2zM204 190h2v2h-2zM198 203h2v2h-2zM202 228h1.5v1.5h-1.5zM160 221h1.5v1.5h-1.5zM175 239h1v1h-1zM170 192h1.5v1.5h-1.5zM166 224h2v2h-2zM203 210h1v1h-1zM155 236h1v1h-1zM173 207h2v2h-2zM198 204h1.5v1.5h-1.5zM165 237h1.5v1.5h-1.5zM208 211h1.5v1.5h-1.5zM199 253h1.5v1.5h-1.5zM205 196h1v1h-1zM178 256h1.5v1.5h-1.5zM187 226h1v1h-1zM162 224h1v1h-1zM273 256h1.5v1.5h-1.5zM275 202h1.5v1.5h-1.5zM226 204h1.5v1.5h-1.5zM271 251h1v1h-1zM248 248h2v2h-2zM229 214h1.5v1.5h-1.5zM248 197h1v1h-1zM255 254h2v2h-2zM276 236h1.5v1.5h-1.5zM284 252h1v1h-1zM252 234h1v1h-1zM271 204h2v2h-2zM282 232h1.5v1.5h-1.5zM257 223h2v2h-2zM230 221h1.5v1.5h-1.5zM223 196h1v1h-1zM271 225h1v1h-1zM285 191h1v1h-1zM266 206h1v1h-1zM264 223h1v1h-1zM268 225h1v1h-1zM234 225h1.5v1.5h-1.5zM275 198h1.5v1.5h-1.5zM243 232h1v1h-1zM297 230h1v1h-1zM349 246h1.5v1.5h-1.5zM319 203h1.5v1.5h-1.5zM295 189h1.5v1.5h-1.5zM315 203h1.5v1.5h-1.5zM316 240h1.5v1.5h-1.5zM292 211h1v1h-1zM331 204h1v1h-1zM303 202h2v2h-2zM309 230h1v1h-1zM342 199h2v2h-2zM296 256h1.5v1.5h-1.5zM353 243h1.5v1.5h-1.5zM312 197h1.5v1.5h-1.5zM311 238h2v2h-2zM342 211h1v1h-1zM353 201h1.5v1.5h-1.5zM347 241h1.5v1.5h-1.5zM299 199h1.5v1.5h-1.5zM297 202h1v1h-1zM355 240h1v1h-1zM344 204h1.5v1.5h-1.5zM342 203h1v1h-1z"/>
<path fill="#3050f8" fill-opacity="0.7" d="M40 196h1v1h-1zM25 200h1.5v1.5h-1.5zM50 202h1v1h-1zM53 246h1v1h-1zM75 254h1v1h-1zM77 254h1v1h-1zM54 210h1.5v1.5h-1.5zM43 219h1.5v1.5h-1.5zM34 232h2v2h-2zM68 191h1.5v1.5h-1.5zM64 228h1v1h-1zM38 235h1.5v1.5h-1.5zM73 251h1.5v1.5h-1.5zM49 195h1.5v1.5h-1.5zM26 195h1.5v1.5h-1.5zM69 251h1v1h-1zM42 189h1v1h-1zM51 200h1v1h-1zM57 235h1v1h-1zM56 195h1.5v1.5h-1.5zM38 232h2v2h-2zM46 209h1v1h-1zM45 198h1.5v1.5h-1.5zM125 254h1.5v1.5h-1.5zM108 255h1v1h-1zM141 206h1v1h-1zM93 214h1.5v1.5h-1.5zM96 229h1.5v1.5h-1.5zM108 191h1v1h-1zM125 229h2v2h-2zM102 196h1v1h-1zM97 237h1.5v1.5h-1.5zM109 203h2v2h-2zM107 241h1.5v1.5h-1.5zM103 234h1v1h-1zM127 238h1.5v1.5h-1.5zM89 194h1v1h-1zM86 232h1v1h-1zM122 241h1.5v1.5h-1.5zM127 231h1v1h-1zM127 258h1.5v1.5h-1.5zM87 201h1v1h-1zM132 203h1v1h-1zM137 209h1v1h-1zM103 211h2v2h-2zM110 192h2v2h-2zM113 222h1v1h-1zM119 224h1v1h-1zM190 213h1v1h-1zM152 220h2v2h-2zM206 236h1.5v1.5h-1.5zM177 250h1.5v1.5h-1.5zM173 201h1v1h-1zM214 234h1v1h-1zM149 189h1v1h-1zM206 255h1.5v1.5h-1.5zM174 249h1v1h-1zM193 230h1v1h-1zM199 237h1v1h-1zM163 238h1.5v1.5h-1.5zM183 221h1.5v1.5h-1.5zM185 214h1.5v1.5h-1.5zM207 251h1.5v1.5h-1.5zM190 224h1.5v1.5h-1.5zM152 237h1.5v1.5h-1.5zM156 236h1.5v1.5h-1.5zM210 192h1v1h-1zM178 229h1v1h-1zM169 192h2v2h-2zM286 216h1.5v1.5h-1.5zM262 256h1v1h-1zM247 235h1v1h-1zM253 218h1.5v1.5h-1.5zM226 250h1.5v1.5h-1.5zM243 236h1.5v1.5h-1.5zM261 213h1v1h-1zM227 189h1.5v1.5h-1.5zM256 213h2v2h-2zM247 193h1.5v1.5h-1.5zM249 204h1v1h-1zM248 246h1v1h-1zM232 238h1.5v1.5h-1.5zM237 250h2v2h-2zM248 231h1v1h-1zM286 258h1v1h-1zM238 220h2v2h-2zM276 256h1v1h-1zM280 242h1.5v1.5h-1.5zM265 224h2v2h-2zM250 250h1.5v1.5h-1.5zM284 203h2v2h-2zM285 196h1v1h-1zM264 193h1v1h-1zM224 233h1.5v1.5h-1.5zM269 251h1v1h-1zM251 217h1v1h-1zM227 258h1.5v1.5h-1.5zM230 251h1v1h-1zM321 190h1v1h-1zM349 199h1.5v1.5h-1.5zM306 206h2v2h-2zM324 192h1.5v1.5h-1.5zM345 219h1.5v1.5h-1.5zM351 216h2v2h-2zM291 202h1.5v1.5h-1.5zM312 212h1.5v1.5h-1.5zM321 203h1v1h-1zM313 238h2v2h-2zM317 225h1.5v1.5h-1.5zM318 246h1v1h-1zM334 219h1.5v1.5h-1.5zM324 249h1.5v1.5h-1.5zM315 199h1v1h-1zM329 216h1.5v1.5h-1.5zM302 201h1v1h-1zM291 248h1.5v1.5h-1.5zM351 194h2v2h-2zM289 237h1v1h-1zM290 237h2v2h-2zM292 197h2v2h-2z"/>
<path fill="#4a70ff" fill-opacity="0.4" d="M37 222h1.5v1.5h-1.5zM14 241h1.5v1.5h-1.5zM47 216h1.5v1.5h-1.5zM54 237h1v1h-1zM30 211h1v1h-1zM59 240h1.5v1.5h-1.5zM38 250h1v1h-1zM65 251h2v2h-2zM27 224h2v2h-2zM79 212h1v1h-1zM42 202h1v1h-1zM23 192h1.5v1.5h-1.5zM16 249h1.5v1.5h-1.5zM68 206h1v1h-1zM47 200h1v1h-1zM63 219h1.5v1.5h-1.5zM47 218h1.5v1.5h-1.5zM20 199h1.5v1.5h-1.5zM23 248h1.5v1.5h-1.5zM47 193h1.5v1.5h-1.5zM28 209h1.5v1.5h-1.5zM29 240h1.5v1.5h-1.5zM48 230h1.5v1.5h-1.5zM22 229h1.5v1.5h-1.5zM70 192h1v1h-1zM27 222h1.5v1.5h-1.5zM75 206h2v2h-2zM35 244h1v1h-1zM69 225h1.5v1.5h-1.5zM96 236h1v1h-1zM136 246h1.5v1.5h-1.5zM135 231h2v2h-2zM86 213h1v1h-1zM87 216h2v2h-2zM103 243h1.5v1.5h-1.5zM103 239h1.5v1.5h-1.5zM115 255h1.5v1.5h-1.5zM98 196h1v1h-1zM111 203h1v1h-1zM116 201h1v1h-1zM132 209h2v2h-2zM142 252h1.5v1.5h-1.5zM99 237h2v2h-2zM115 230h1.5v1.5h-1.5zM143 226h1v1h-1zM83 189h1.5v1.5h-1.5zM79 195h1.5v1.5h-1.5zM105 230h1.5v1.5h-1.5zM117 243h1v1h-1zM148 254h1.5v1.5h-1.5zM81 191h2v2h-2zM88 208h1.5v1.5h-1.5zM116 200h1v1h-1zM135 189h1.5v1.5h-1.5zM95 250h1v1h-1zM146 217h2v2h-2zM129 251h1v1h-1zM148 211h1.5v1.5h-1.5zM109 244h1v1h-1zM195 226h2v2h-2zM184 215h2v2h-2zM169 226h1v1h-1zM187 251h1.5v1.5h-1.5zM154 238h1.5v1.5h-1.5zM199 229h1.5v1.5h-1.5zM166 248h1.5v1.5h-1.5zM205 219h1v1h-1zM176 235h2v2h-2zM199 234h1.5v1.5h-1.5zM201 245h1v1h-1zM201 191h1.5v1.5h-1.5zM195 241h2v2h-2zM173 203h1v1h-1zM175 238h2v2h-2zM173 191h2v2h-2zM162 222h1.5v1.5h-1.5zM170 238h1v1h-1zM197 254h1v1h-1zM157 210h1.5v1.5h-1.5zM217 232h1v1h-1zM156 206h1.5v1.5h-1.5zM208 216h1v1h-1zM179 239h1v1h-1zM164 225h1v1h-1zM261 210h1.5v1.5h-1.5zM244 234h1v1h-1zM248 257h1v1h-1zM271 243h1v1h-1zM270 199h1.5v1.5h-1.5zM275 229h1.5v1.5h-1.5zM235 218h1.5v1.5h-1.5zM286 194h1.5v1.5h-1.5zM243 233h1v1h-1zM272 257h1v1h-1zM220 245h2v2h-2zM254 212h1.5v1.5h-1.5zM223 252h1v1h-1zM318 255h1v1h-1zM316 213h2v2h-2zM303 256h2v2h-2zM348 247h1v1h-1zM316 203h1.5v1.5h-1.5zM350 220h1.5v1.5h-1.5zM355 190h1.5v1.5h-1.5zM347 254h1.5v1.5h-1.5zM333 196h1.5v1.5h-1.5zM321 243h1v1h-1zM335 224h1v1h-1zM313 217h1.5v1.5h-1.5zM294 192h2v2h-2zM291 241h2v2h-2zM299 234h2v2h-2zM336 245h1v1h-1zM347 256h1v1h-1zM318 246h1v1h-1zM322 218h2v2h-2zM292 209h1v1h-1zM346 225h1.5v1.5h-1.5z"/>
<path fill="#3a5cff" fill-opacity="0.55" d="M40 196h1.5v1.5h-1.5zM37 212h1v1h-1zM31 239h1v1h-1zM57 191h1.5v1.5h-1.5zM26 238h1v1h-1zM17 251h1.5v1.5h-1.5zM40 207h2v2h-2zM65 193h1.5v1.5h-1.5zM51 250h1.5v1.5h-1.5zM47 210h1v1h-1zM36 215h1v1h-1zM16 225h1.5v1.5h-1.5zM52 238h2v2h-2zM54 198h1v1h-1zM29 228h1.5v1.5h-1.5zM41 238h1v1h-1zM77 208h1v1h-1zM110 203h2v2h-2zM100 241h1.5v1.5h-1.5zM137 188h1.5v1.5h-1.5zM93 210h1.5v1.5h-1.5zM104 224h1.5v1.5h-1.5zM108 241h1.5v1.5h-1.5zM108 228h1v1h-1zM132 226h2v2h-2zM103 211h1v1h-1zM118 243h1.5v1.5h-1.5zM117 227h1.5v1.5h-1.5zM95 214h1v1h-1zM94 219h1.5v1.5h-1.5zM135 243h1v1h-1zM97 224h1v1h-1zM129 198h1.5v1.5h-1.5zM146 230h1v1h-1zM127 197h1v1h-1zM95 230h1.5v1.5h-1.5zM143 195h1v1h-1zM94 206h2v2h-2zM128 253h1.5v1.5h-1.5zM176 227h1.5v1.5h-1.5zM152 258h1v1h-1zM178 214h1.5v1.5h-1.5zM208 244h1v1h-1zM213 203h1.5v1.5h-1.5zM164 202h1v1h-1zM209 250h1v1h-1zM184 248h2v2h-2zM216 214h1v1h-1zM208 191h1v1h-1zM192 209h1.5v1.5h-1.5zM189 197h2v2h-2zM153 204h2v2h-2zM170 236h1v1h-1zM176 228h1v1h-1zM182 199h1v1h-1zM170 253h1v1h-1zM208 192h1v1h-1zM209 194h1.5v1.5h-1.5zM154 243h1.5v1.5h-1.5zM177 210h1.5v1.5h-1.5zM158 254h1v1h-1zM190 220h1.5v1.5h-1.5zM214 237h1.5v1.5h-1.5zM163 210h1.5v1.5h-1.5zM212 192h1.5v1.5h-1.5zM173 231h2v2h-2zM271 220h1.5v1.5h-1.5zM263 257h1v1h-1zM249 204h1.5v1.5h-1.5zM239 232h1v1h-1zM239 220h2v2h-2zM264 217h2v2h-2zM232 237h1v1h-1zM236 230h1v1h-1zM267 197h1v1h-1zM269 242h1.5v1.5h-1.5zM248 245h2v2h-2zM222 223h1v1h-1zM251 205h1v1h-1zM282 207h1v1h-1zM265 190h1.5v1.5h-1.5zM255 255h1.5v1.5h-1.5zM228 240h1.5v1.5h-1.5zM262 190h2v2h-2zM267 190h1v1h-1zM235 240h2v2h-2zM238 225h1.5v1.5h-1.5zM264 246h2v2h-2zM277 205h2v2h-2zM315 220h1.5v1.5h-1.5zM323 190h1.5v1.5h-1.5zM318 211h1v1h-1zM315 254h1v1h-1zM336 203h1v1h-1zM327 206h1v1h-1zM327 247h1.5v1.5h-1.5zM341 234h1.5v1.5h-1.5zM297 249h1.5v1.5h-1.5zM330 222h1.5v1.5h-1.5zM324 241h1v1h-1zM297 237h1.5v1.5h-1.5zM299 253h2v2h-2zM305 231h1v1h-1zM340 195h1.5v1.5h-1.5zM329 215h2v2h-2zM329 217h1v1h-1zM315 232h1.5v1.5h-1.5zM310 251h1.5v1.5h-1.5zM351 209h1v1h-1zM357 216h1.5v1.5h-1.5zM333 189h1v1h-1zM317 211h2v2h-2z"/>
<path fill="#4a70ff" fill-opacity="0.7" d="M45 222h1v1h-1zM42 236h1.5v1.5h-1.5zM43 206h1.5v1.5h-1.5zM50 218h1v1h-1zM30 211h2v2h-2zM62 189h2v2h-2zM68 238h1v1h-1zM73 227h1v1h-1zM74 241h1v1h-1zM37 204h1.5v1.5h-1.5zM33 196h1v1h-1zM9 258h1.5v1.5h-1.5zM73 252h2v2h-2zM37 204h1.5v1.5h-1.5zM62 218h2v2h-2zM15 251h1.5v1.5h-1.5zM135 237h1v1h-1zM111 227h1.5v1.5h-1.5zM101 236h1.5v1.5h-1.5zM107 204h1v1h-1zM114 219h1v1h-1zM127 209h2v2h-2zM94 204h1.5v1.5h-1.5zM143 244h1.5v1.5h-1.5zM105 192h2v2h-2zM136 246h1v1h-1zM113 223h1v1h-1zM105 224h2v2h-2zM116 242h1.5v1.5h-1.5zM121 212h1v1h-1zM108 224h1v1h-1zM105 229h1v1h-1zM101 221h1.5v1.5h-1.5zM106 250h1v1h-1zM97 215h1v1h-1zM85 221h1v1h-1zM92 226h2v2h-2zM91 212h1.5v1.5h-1.5zM95 211h2v2h-2zM98 251h1.5v1.5h-1.5zM89 224h1v1h-1zM115 225h1.5v1.5h-1.5zM196 237h1.5v1.5h-1.5zM174 193h2v2h-2zM154 222h1v1h-1zM172 224h1.5v1.5h-1.5zM208 224h2v2h-2zM151 226h1.5v1.5h-1.5zM172 232h2v2h-2zM186 208h1v1h-1zM151 248h1v1h-1zM208 190h1.5v1.5h-1.5zM181 193h1v1h-1zM156 231h1v1h-1zM207 235h1.5v1.5h-1.5zM184 226h1v1h-1zM154 191h1v1h-1zM209 250h1.5v1.5h-1.5zM169 253h1v1h-1zM218 243h1v1h-1zM168 225h1.5v1.5h-1.5zM214 237h1.5v1.5h-1.5zM183 201h1v1h-1zM198 214h1v1h-1zM249 210h1.5v1.5h-1.5zM243 219h2v2h-2zM228 256h1v1h-1zM263 200h1.5v1.5h-1.5zM282 247h1v1h-1zM256 227h1.5v1.5h-1.5zM241 226h1v1h-1zM273 252h1.5v1.5h-1.5zM231 207h1.5v1.5h-1.5zM262 250h1v1h-1zM240 210h1.5v1.5h-1.5zM272 192h1v1h-1zM288 246h1.5v1.5h-1.5zM280 204h1.5v1.5h-1.5zM284 212h1.5v1.5h-1.5zM226 236h1.5v1.5h-1.5zM245 227h1.5v1.5h-1.5zM255 215h1.5v1.5h-1.5zM228 203h2v2h-2zM286 235h1.5v1.5h-1.5zM245 215h1v1h-1zM238 244h2v2h-2zM225 189h1v1h-1zM261 206h1v1h-1zM299 203h1v1h-1zM305 235h1.5v1.5h-1.5zM347 219h2v2h-2zM314 204h1v1h-1zM338 246h1.5v1.5h-1.5zM308 212h1.5v1.5h-1.5zM293 212h2v2h-2zM301 194h1v1h-1zM325 212h1.5v1.5h-1.5zM289 240h1.5v1.5h-1.5zM315 231h1.5v1.5h-1.5zM345 203h1v1h-1zM290 191h1.5v1.5h-1.5zM329 207h2v2h-2zM307 241h1v1h-1zM337 196h2v2h-2zM358 218h1.5v1.5h-1.5zM330 204h2v2h-2zM321 218h1.5v1.5h-1.5zM293 247h1v1h-1zM348 192h1.5v1.5h-1.5zM300 248h1.5v1.5h-1.5zM345 240h2v2h-2zM320 235h1v1h-1zM329 212h1.5v1.5h-1.5zM314 242h1v1h-1zM320 247h1v1h-1zM312 210h1.5v1.5h-1.5zM322 214h1v1h-1zM345 209h2v2h-2zM316 195h1v1h-1z"/>
<path fill="#3a5cff" fill-opacity="0.4" d="M13 218h2v2h-2zM65 232h1.5v1.5h-1.5zM31 245h1.5v1.5h-1.5zM11 194h1v1h-1zM32 190h1.5v1.5h-1.5zM14 193h1.5v1.5h-1.5zM64 230h1.5v1.5h-1.5zM20 203h1v1h-1zM30 227h1.5v1.5h-1.5zM75 227h1.5v1.5h-1.5zM27 204h1v1h-1zM11 194h1.5v1.5h-1.5zM56 236h2v2h-2zM47 189h1.5v1.5h-1.5zM19 253h1.5v1.5h-1.5zM78 205h1v1h-1zM44 212h2v2h-2zM77 219h1v1h-1zM62 212h1v1h-1zM65 194h2v2h-2zM25 194h2v2h-2zM112 228h1v1h-1zM101 250h1v1h-1zM118 203h1v1h-1zM87 214h1.5v1.5h-1.5zM144 250h2v2h-2zM146 194h1v1h-1zM96 253h1.5v1.5h-1.5zM92 256h1v1h-1zM137 190h1v1h-1zM100 246h1.5v1.5h-1.5zM135 210h1.5v1.5h-1.5zM139 190h1.5v1.5h-1.5zM144 208h1.5v1.5h-1.5zM144 202h1.5v1.5h-1.5zM134 197h1v1h-1zM91 240h1.5v1.5h-1.5zM89 212h1v1h-1zM216 248h1v1h-1zM218 258h1v1h-1zM215 247h1v1h-1zM185 202h1v1h-1zM177 243h1.5v1.5h-1.5zM209 241h1.5v1.5h-1.5zM155 213h1v1h-1zM208 200h2v2h-2zM217 251h2v2h-2zM212 198h1.5v1.5h-1.5zM197 211h1.5v1.5h-1.5zM166 191h1v1h-1zM168 203h1v1h-1zM202 239h1.5v1.5h-1.5zM189 238h1v1h-1zM173 210h1v1h-1zM211 230h1.5v1.5h-1.5zM183 208h1.5v1.5h-1.5zM184 226h1v1h-1zM150 235h1.5v1.5h-1.5zM231 201h1.5v1.5h-1.5zM251 191h1v1h-1zM223 252h1.5v1.5h-1.5zM253 219h1v1h-1zM258 219h1v1h-1zM245 202h1v1h-1zM253 237h1.5v1.5h-1.5zM249 202h1v1h-1zM222 229h1.5v1.5h-1.5zM235 220h1v1h-1zM256 241h2v2h-2zM283 204h1v1h-1zM222 246h1.5v1.5h-1.5zM219 215h2v2h-2zM235 195h1.5v1.5h-1.5zM222 217h2v2h-2zM221 228h1.5v1.5h-1.5zM249 229h2v2h-2zM287 239h1.5v1.5h-1.5zM267 245h1.5v1.5h-1.5zM243 252h1v1h-1zM248 251h1.5v1.5h-1.5zM264 248h1v1h-1zM246 204h1.5v1.5h-1.5zM271 248h1v1h-1zM224 234h1.5v1.5h-1.5zM268 252h1.5v1.5h-1.5zM249 209h2v2h-2zM347 199h1v1h-1zM342 210h2v2h-2zM324 194h1v1h-1zM341 258h1v1h-1zM292 246h2v2h-2zM316 240h1v1h-1zM346 202h2v2h-2zM355 195h2v2h-2zM345 243h1.5v1.5h-1.5zM335 234h1.5v1.5h-1.5zM324 219h1v1h-1zM329 246h1.5v1.5h-1.5zM295 211h1.5v1.5h-1.5zM330 231h1.5v1.5h-1.5zM322 216h1v1h-1zM309 241h2v2h-2zM333 207h1.5v1.5h-1.5zM328 196h1.5v1.5h-1.5zM296 249h1.5v1.5h-1.5z"/>
<path fill="#4a70ff" fill-opacity="0.25" d="M21 249h1v1h-1zM55 234h2v2h-2zM10 255h1.5v1.5h-1.5zM14 189h1v1h-1zM33 223h1v1h-1zM10 254h1.5v1.5h-1.5zM69 254h1.5v1.5h-1.5zM29 242h1v1h-1zM68 250h2v2h-2zM34 253h2v2h-2zM32 237h1.5v1.5h-1.5zM22 258h2v2h-2zM68 231h1v1h-1zM51 209h1.5v1.5h-1.5zM10 227h1v1h-1zM72 229h2v2h-2zM23 201h1v1h-1zM32 242h1.5v1.5h-1.5zM50 223h1.5v1.5h-1.5zM57 218h1v1h-1zM44 222h1.5v1.5h-1.5zM19 222h1v1h-1zM48 220h1v1h-1zM30 226h1v1h-1zM113 191h1v1h-1zM139 250h1v1h-1zM130 200h1.5v1.5h-1.5zM130 196h1.5v1.5h-1.5zM121 195h1v1h-1zM85 204h1v1h-1zM120 214h1v1h-1zM140 196h1v1h-1zM148 210h1v1h-1zM110 230h1v1h-1zM144 233h1v1h-1zM138 199h2v2h-2zM97 211h2v2h-2zM118 227h1.5v1.5h-1.5zM138 252h1v1h-1zM129 191h1.5v1.5h-1.5zM113 203h2v2h-2zM85 212h1v1h-1zM146 229h2v2h-2zM106 211h2v2h-2zM152 217h2v2h-2zM204 234h1v1h-1zM166 231h1v1h-1zM178 201h1.5v1.5h-1.5zM162 258h1v1h-1zM162 237h2v2h-2zM151 255h1v1h-1zM169 220h1.5v1.5h-1.5zM184 247h2v2h-2zM167 221h2v2h-2zM216 234h1v1h-1zM169 218h1v1h-1zM217 199h1.5v1.5h-1.5zM208 197h1.5v1.5h-1.5zM153 196h1.5v1.5h-1.5zM189 211h2v2h-2zM149 251h1.5v1.5h-1.5zM156 241h1.5v1.5h-1.5zM196 250h1.5v1.5h-1.5zM200 228h1.5v1.5h-1.5zM193 230h1.5v1.5h-1.5zM213 254h2v2h-2zM179 216h1.5v1.5h-1.5zM156 230h2v2h-2zM163 234h1.5v1.5h-1.5zM189 254h1v1h-1zM202 252h1v1h-1zM270 195h1v1h-1zM258 231h1v1h-1zM288 221h2v2h-2zM220 237h2v2h-2zM279 226h1v1h-1zM227 217h1v1h-1zM277 210h2v2h-2zM248 226h1.5v1.5h-1.5zM253 220h1.5v1.5h-1.5zM238 232h1v1h-1zM224 192h2v2h-2zM235 207h1v1h-1zM233 251h1.5v1.5h-1.5zM232 252h1v1h-1zM252 209h2v2h-2zM279 218h2v2h-2zM247 223h1v1h-1zM240 257h1v1h-1zM228 201h1.5v1.5h-1.5zM296 231h2v2h-2zM307 209h1v1h-1zM340 195h1.5v1.5h-1.5zM348 200h2v2h-2zM319 202h2v2h-2zM302 223h1v1h-1zM320 215h1.5v1.5h-1.5zM347 190h1v1h-1zM322 196h1v1h-1zM309 232h1.5v1.5h-1.5zM311 201h1.5v1.5h-1.5zM341 239h1v1h-1zM324 254h2v2h-2zM340 227h1.5v1.5h-1.5zM350 241h1v1h-1zM315 207h1.5v1.5h-1.5zM302 252h1v1h-1zM348 212h1.5v1.5h-1.5zM329 223h1.5v1.5h-1.5zM320 198h1v1h-1zM358 196h1.5v1.5h-1.5zM329 247h1.5v1.5h-1.5zM297 223h1v1h-1zM349 226h1.5v1.5h-1.5zM311 256h1.5v1.5h-1.5zM345 199h1v1h-1zM299 222h2v2h-2z"/>
<path fill="#3050f8" fill-opacity="0.4" d="M42 221h1v1h-1zM47 205h1.5v1.5h-1.5zM41 239h1v1h-1zM35 248h2v2h-2zM72 202h1.5v1.5h-1.5zM41 228h1.5v1.5h-1.5zM26 197h1v1h-1zM14 251h1.5v1.5h-1.5zM31 245h1v1h-1zM75 189h1v1h-1zM71 258h1.5v1.5h-1.5zM54 194h1.5v1.5h-1.5zM56 198h1v1h-1zM65 199h1.5v1.5h-1.5zM51 212h1v1h-1zM46 248h1v1h-1zM78 232h1.5v1.5h-1.5zM79 210h1.5v1.5h-1.5zM18 190h1v1h-1zM72 196h1.5v1.5h-1.5zM37 204h1.5v1.5h-1.5zM66 192h1.5v1.5h-1.5zM71 219h1v1h-1zM25 195h1.5v1.5h-1.5zM58 221h1v1h-1zM20 223h2v2h-2zM67 238h1v1h-1zM27 209h1.5v1.5h-1.5zM31 215h1.5v1.5h-1.5zM67 252h1v1h-1zM66 249h1v1h-1zM76 216h1.5v1.5h-1.5zM37 216h2v2h-2zM37 189h1.5v1.5h-1.5zM138 243h1.5v1.5h-1.5zM80 191h1v1h-1zM140 248h1.5v1.5h-1.5zM86 208h1.5v1.5h-1.5zM137 208h1v1h-1zM109 190h1v1h-1zM89 211h1v1h-1zM126 203h1v1h-1zM115 199h1.5v1.5h-1.5zM84 248h1v1h-1zM127 221h1v1h-1zM96 225h1.5v1.5h-1.5zM120 257h1v1h-1zM88 200h1v1h-1zM141 236h2v2h-2zM126 247h1v1h-1zM128 211h2v2h-2zM107 229h1v1h-1zM143 240h2v2h-2zM148 192h2v2h-2zM102 217h1.5v1.5h-1.5zM82 212h1.5v1.5h-1.5zM124 212h1.5v1.5h-1.5zM97 217h1v1h-1zM104 190h2v2h-2zM114 225h1.5v1.5h-1.5zM128 202h1v1h-1zM143 233h1.5v1.5h-1.5zM86 220h1v1h-1zM88 244h2v2h-2zM106 230h1v1h-1zM187 197h1.5v1.5h-1.5zM205 247h2v2h-2zM157 227h1v1h-1zM205 222h1v1h-1zM196 216h1.5v1.5h-1.5zM177 256h1v1h-1zM212 206h1v1h-1zM188 195h1v1h-1zM193 212h2v2h-2zM178 201h1.5v1.5h-1.5zM205 199h1v1h-1zM213 255h1v1h-1zM207 241h1.5v1.5h-1.5zM210 215h1.5v1.5h-1.5zM157 225h1v1h-1zM213 239h1.5v1.5h-1.5zM213 236h1v1h-1zM206 189h1.5v1.5h-1.5zM159 247h2v2h-2zM202 225h2v2h-2zM204 229h1.5v1.5h-1.5zM172 207h1v1h-1zM234 189h2v2h-2zM231 217h2v2h-2zM229 197h1v1h-1zM257 253h1.5v1.5h-1.5zM249 199h1.5v1.5h-1.5zM272 225h1v1h-1zM256 201h1.5v1.5h-1.5zM243 205h1v1h-1zM248 205h1v1h-1zM284 207h2v2h-2zM252 214h1.5v1.5h-1.5zM231 217h1.5v1.5h-1.5zM271 242h1.5v1.5h-1.5zM271 241h1v1h-1zM229 201h1.5v1.5h-1.5zM266 245h2v2h-2zM258 244h1v1h-1zM265 197h1v1h-1zM252 218h1.5v1.5h-1.5zM358 189h1.5v1.5h-1.5zM330 198h1.5v1.5h-1.5zM327 230h1.5v1.5h-1.5zM318 234h2v2h-2zM346 214h1v1h-1zM320 211h2v2h-2zM317 189h2v2h-2zM357 206h1v1h-1zM294 253h1.5v1.5h-1.5zM294 197h1v1h-1zM306 252h1v1h-1zM303 226h1v1h-1zM321 256h1.5v1.5h-1.5zM300 210h1v1h-1zM351 238h2v2h-2zM352 200h2v2h-2zM355 192h1v1h-1zM312 245h1v1h-1zM344 222h1.5v1.5h-1.5zM322 235h1.5v1.5h-1.5zM348 252h1v1h-1z"/>
<path fill="#3a5cff" fill-opacity="0.7" d="M55 213h1.5v1.5h-1.5zM27 224h1v1h-1zM54 200h2v2h-2zM31 193h1.5v1.5h-1.5zM50 246h1.5v1.5h-1.5zM21 249h2v2h-2zM14 237h1v1h-1zM46 236h2v2h-2zM69 206h1.5v1.5h-1.5zM59 188h1v1h-1zM77 210h1.5v1.5h-1.5zM39 253h1v1h-1zM55 211h1.5v1.5h-1.5zM48 220h1v1h-1zM49 224h1v1h-1zM72 201h1.5v1.5h-1.5zM21 212h1v1h-1zM69 196h1.5v1.5h-1.5zM131 223h1v1h-1zM120 229h1.5v1.5h-1.5zM113 217h1.5v1.5h-1.5zM135 230h1.5v1.5h-1.5zM84 241h1v1h-1zM88 220h1.5v1.5h-1.5zM122 194h1v1h-1zM124 227h1v1h-1zM143 233h1v1h-1zM82 222h1.5v1.5h-1.5zM148 189h1.5v1.5h-1.5zM141 202h1v1h-1zM108 254h1.5v1.5h-1.5zM128 224h2v2h-2zM138 239h1v1h-1zM97 209h1v1h-1zM88 237h1.5v1.5h-1.5zM91 223h1v1h-1zM90 214h1.5v1.5h-1.5zM107 208h1.5v1.5h-1.5zM139 216h2v2h-2zM101 233h1v1h-1zM134 190h2v2h-2zM97 205h1v1h-1zM87 211h2v2h-2zM144 206h1v1h-1zM109 221h1.5v1.5h-1.5zM129 249h1.5v1.5h-1.5zM112 221h1.5v1.5h-1.5zM113 193h1v1h-1zM128 189h1v1h-1zM174 236h1.5v1.5h-1.5zM149 243h1v1h-1zM218 192h1.5v1.5h-1.5zM163 225h1.5v1.5h-1.5zM202 194h1.5v1.5h-1.5zM193 190h1.5v1.5h-1.5zM155 197h1v1h-1zM195 189h1.5v1.5h-1.5zM182 212h2v2h-2zM167 241h1.5v1.5h-1.5zM184 228h1.5v1.5h-1.5zM201 228h2v2h-2zM184 229h2v2h-2zM154 227h1v1h-1zM215 231h1v1h-1zM151 256h2v2h-2zM159 208h1.5v1.5h-1.5zM165 234h1v1h-1zM165 221h1v1h-1zM214 215h1v1h-1zM176 246h2v2h-2zM180 192h1.5v1.5h-1.5zM181 225h1.5v1.5h-1.5zM281 235h1.5v1.5h-1.5zM284 202h1v1h-1zM250 250h1.5v1.5h-1.5zM273 236h1.5v1.5h-1.5zM239 253h1v1h-1zM258 220h1.5v1.5h-1.5zM223 197h2v2h-2zM235 239h2v2h-2zM275 206h1.5v1.5h-1.5zM273 230h2v2h-2zM232 211h1v1h-1zM245 204h1v1h-1zM283 211h1v1h-1zM247 215h1v1h-1zM227 257h1.5v1.5h-1.5zM263 255h1v1h-1zM248 198h1v1h-1zM284 233h1.5v1.5h-1.5zM241 220h1v1h-1zM238 206h1.5v1.5h-1.5zM298 239h1v1h-1zM350 247h1v1h-1zM301 243h1.5v1.5h-1.5zM294 229h1.5v1.5h-1.5zM309 198h1.5v1.5h-1.5zM295 190h1v1h-1zM314 190h1v1h-1zM307 250h1v1h-1zM325 196h1.5v1.5h-1.5zM339 221h2v2h-2zM311 245h2v2h-2zM358 225h2v2h-2zM323 223h1.5v1.5h-1.5zM301 244h1v1h-1zM307 221h1.5v1.5h-1.5zM345 231h1v1h-1zM313 222h2v2h-2zM305 249h1v1h-1zM329 218h2v2h-2zM333 210h2v2h-2zM303 247h1v1h-1zM347 235h1v1h-1zM290 206h1.5v1.5h-1.5zM300 218h1.5v1.5h-1.5zM348 221h1v1h-1z"/>
<path fill="#4a70ff" fill-opacity="0.55" d="M29 256h1.5v1.5h-1.5zM79 220h1v1h-1zM26 247h2v2h-2zM71 235h1.5v1.5h-1.5zM58 256h1.5v1.5h-1.5zM11 239h1v1h-1zM27 221h1.5v1.5h-1.5zM13 188h1v1h-1zM78 239h1.5v1.5h-1.5zM76 255h1.5v1.5h-1.5zM78 226h1.5v1.5h-1.5zM25 221h1v1h-1zM47 249h1v1h-1zM50 244h2v2h-2zM65 205h1.5v1.5h-1.5zM34 227h2v2h-2zM29 253h1v1h-1zM10 235h1v1h-1zM66 223h1.5v1.5h-1.5zM61 211h1.5v1.5h-1.5zM52 191h1v1h-1zM24 255h2v2h-2zM43 215h1.5v1.5h-1.5zM20 200h1v1h-1zM64 258h1v1h-1zM40 211h1v1h-1zM39 204h1.5v1.5h-1.5zM51 200h1v1h-1zM39 228h1.5v1.5h-1.5zM65 223h1v1h-1zM26 240h1.5v1.5h-1.5zM94 235h1.5v1.5h-1.5zM85 257h1.5v1.5h-1.5zM92 197h1v1h-1zM147 246h1.5v1.5h-1.5zM135 189h1.5v1.5h-1.5zM146 204h1v1h-1zM119 256h1v1h-1zM129 239h1v1h-1zM95 206h1v1h-1zM96 211h1.5v1.5h-1.5zM207 247h1v1h-1zM202 256h1v1h-1zM187 246h1v1h-1zM172 248h1.5v1.5h-1.5zM200 229h1.5v1.5h-1.5zM215 202h1v1h-1zM153 250h1.5v1.5h-1.5zM207 203h1v1h-1zM177 251h1.5v1.5h-1.5zM212 256h2v2h-2zM210 204h1.5v1.5h-1.5zM156 195h1.5v1.5h-1.5zM198 192h1v1h-1zM195 199h1v1h-1zM206 246h1v1h-1zM205 244h2v2h-2zM154 245h2v2h-2zM180 198h1.5v1.5h-1.5zM152 245h1v1h-1zM162 223h1.5v1.5h-1.5zM165 228h1.5v1.5h-1.5zM218 213h1v1h-1zM174 255h1v1h-1zM161 207h1.5v1.5h-1.5zM159 254h2v2h-2zM176 234h1v1h-1zM169 224h1.5v1.5h-1.5zM176 239h1.5v1.5h-1.5zM151 218h1v1h-1zM182 247h1.5v1.5h-1.5zM173 258h2v2h-2zM251 200h1.5v1.5h-1.5zM241 237h1v1h-1zM248 193h1.5v1.5h-1.5zM283 215h2v2h-2zM249 235h2v2h-2zM242 200h1.5v1.5h-1.5zM269 202h1v1h-1zM266 210h1.5v1.5h-1.5zM244 234h1.5v1.5h-1.5zM235 237h1v1h-1zM255 197h1v1h-1zM288 249h2v2h-2zM240 207h1.5v1.5h-1.5zM235 255h1.5v1.5h-1.5zM229 191h1v1h-1zM275 193h1v1h-1zM231 214h2v2h-2zM245 191h1.5v1.5h-1.5zM280 237h1.5v1.5h-1.5zM244 248h1v1h-1zM260 225h1v1h-1zM250 247h1.5v1.5h-1.5zM339 203h1.5v1.5h-1.5zM338 227h1.5v1.5h-1.5zM291 243h2v2h-2zM337 249h1v1h-1zM320 254h1v1h-1zM345 196h1.5v1.5h-1.5zM357 248h2v2h-2zM297 249h2v2h-2zM289 241h1.5v1.5h-1.5zM311 196h1.5v1.5h-1.5zM304 241h1v1h-1zM296 225h1.5v1.5h-1.5zM354 252h1.5v1.5h-1.5zM348 215h2v2h-2zM351 243h1v1h-1zM299 223h1.5v1.5h-1.5zM340 219h1v1h-1zM350 212h1.5v1.5h-1.5zM341 200h1v1h-1zM300 254h2v2h-2zM338 221h1.5v1.5h-1.5zM319 206h2v2h-2zM302 227h1.5v1.5h-1.5zM314 244h1.5v1.5h-1.5zM340 212h1v1h-1zM300 252h2v2h-2zM356 229h1v1h-1zM333 219h2v2h-2zM294 226h1v1h-1zM317 192h1.5v1.5h-1.5zM346 201h1.5v1.5h-1.5z"/>
<path fill="#3050f8" fill-opacity="0.25" d="M50 254h1v1h-1zM64 205h1v1h-1zM45 250h1.5v1.5h-1.5zM31 193h1v1h-1zM74 250h1v1h-1zM48 198h1.5v1.5h-1.5zM59 207h1.5v1.5h-1.5zM46 253h1.5v1.5h-1.5zM29 223h1v1h-1zM49 252h1v1h-1zM54 210h1v1h-1zM33 195h1v1h-1zM78 190h1.5v1.5h-1.5zM55 195h1v1h-1zM55 195h2v2h-2zM59 196h1v1h-1zM35 207h1v1h-1zM26 229h2v2h-2zM47 198h1v1h-1zM41 213h2v2h-2zM50 202h1v1h-1zM78 249h2v2h-2zM26 250h1v1h-1zM57 251h1v1h-1zM58 231h1v1h-1zM22 233h1v1h-1zM63 258h1v1h-1zM42 219h1v1h-1zM120 221h1v1h-1zM100 223h2v2h-2zM117 253h1.5v1.5h-1.5zM106 258h1.5v1.5h-1.5zM133 219h1v1h-1zM121 234h1v1h-1zM94 242h1.5v1.5h-1.5zM83 211h1.5v1.5h-1.5zM126 255h1v1h-1zM107 204h1.5v1.5h-1.5zM120 252h1.5v1.5h-1.5zM98 253h1.5v1.5h-1.5zM136 188h1.5v1.5h-1.5zM137 240h1v1h-1zM90 255h2v2h-2zM120 211h1v1h-1zM104 243h1v1h-1zM115 208h1.5v1.5h-1.5zM85 190h2v2h-2zM114 191h2v2h-2zM90 222h1.5v1.5h-1.5zM183 205h1v1h-1zM179 224h1v1h-1zM162 239h1v1h-1zM159 206h1.5v1.5h-1.5zM209 242h1.5v1.5h-1.5zM157 221h1.5v1.5h-1.5zM169 201h2v2h-2zM170 249h1.5v1.5h-1.5zM178 208h2v2h-2zM172 222h2v2h-2zM196 208h1v1h-1zM217 203h1v1h-1zM152 233h1v1h-1zM180 252h1.5v1.5h-1.5zM157 236h1v1h-1zM204 223h1.5v1.5h-1.5zM165 189h1.5v1.5h-1.5zM158 239h1v1h-1zM161 256h1.5v1.5h-1.5zM184 239h1.5v1.5h-1.5zM196 235h1v1h-1zM190 203h1v1h-1zM175 213h2v2h-2zM199 241h1v1h-1zM196 214h1.5v1.5h-1.5zM198 217h2v2h-2zM159 191h1v1h-1zM199 239h1.5v1.5h-1.5zM185 248h1.5v1.5h-1.5zM178 258h1v1h-1zM199 213h1v1h-1zM260 215h2v2h-2zM276 240h1.5v1.5h-1.5zM222 221h1v1h-1zM232 235h1v1h-1zM247 255h1.5v1.5h-1.5zM241 201h2v2h-2zM235 203h2v2h-2zM234 231h1v1h-1zM260 204h1.5v1.5h-1.5zM252 193h1v1h-1zM244 226h1v1h-1zM255 227h2v2h-2zM271 235h1.5v1.5h-1.5zM242 232h2v2h-2zM242 204h1.5v1.5h-1.5zM234 224h1v1h-1zM253 219h1v1h-1zM238 228h1v1h-1zM234 205h1.5v1.5h-1.5zM257 201h1.5v1.5h-1.5zM231 207h1.5v1.5h-1.5zM282 195h1v1h-1zM281 205h1v1h-1zM259 198h2v2h-2zM220 198h1v1h-1zM268 257h1v1h-1zM319 193h1v1h-1zM298 225h1.5v1.5h-1.5zM328 226h1v1h-1zM344 234h1v1h-1zM313 221h1.5v1.5h-1.5zM332 225h1.5v1.5h-1.5zM326 233h1.5v1.5h-1.5zM356 214h1v1h-1zM326 250h2v2h-2zM294 204h2v2h-2zM306 209h1v1h-1zM323 194h1.5v1.5h-1.5zM341 192h1v1h-1zM326 249h2v2h-2zM314 258h1.5v1.5h-1.5zM321 223h1.5v1.5h-1.5zM341 189h2v2h-2z"/>
<path fill="#3a5cff" fill-opacity="0.25" d="M16 219h1.5v1.5h-1.5zM45 198h1v1h-1zM18 205h1.5v1.5h-1.5zM64 206h1.5v1.5h-1.5zM60 213h1v1h-1zM34 214h1.5v1.5h-1.5zM72 200h2v2h-2zM24 232h1v1h-1zM75 219h2v2h-2zM42 247h1.5v1.5h-1.5zM12 192h1v1h-1zM57 199h1.5v1.5h-1.5zM45 218h1v1h-1zM49 257h1v1h-1zM20 243h1.5v1.5h-1.5zM31 249h1v1h-1zM40 256h1v1h-1zM21 246h2v2h-2zM33 193h2v2h-2zM65 208h1.5v1.5h-1.5zM47 240h2v2h-2zM18 189h2v2h-2zM50 210h2v2h-2zM75 217h1v1h-1zM54 245h1.5v1.5h-1.5zM148 250h2v2h-2zM110 193h1.5v1.5h-1.5zM102 189h1.5v1.5h-1.5zM116 244h1v1h-1zM148 216h1.5v1.5h-1.5zM137 243h2v2h-2zM98 194h2v2h-2zM112 191h1.5v1.5h-1.5zM82 197h2v2h-2zM121 214h1.5v1.5h-1.5zM103 257h1.5v1.5h-1.5zM131 247h1.5v1.5h-1.5zM80 238h1.5v1.5h-1.5zM103 213h1.5v1.5h-1.5zM120 257h1v1h-1zM144 215h1v1h-1zM101 197h2v2h-2zM87 223h1.5v1.5h-1.5zM83 253h1v1h-1zM119 255h1.5v1.5h-1.5zM88 242h1v1h-1zM121 231h1v1h-1zM94 234h1.5v1.5h-1.5zM96 193h1.5v1.5h-1.5zM182 254h1v1h-1zM212 239h2v2h-2zM166 221h1v1h-1zM168 201h1v1h-1zM172 195h2v2h-2zM206 194h1.5v1.5h-1.5zM164 252h1.5v1.5h-1.5zM216 220h1v1h-1zM178 235h2v2h-2zM179 234h1.5v1.5h-1.5zM214 197h1.5v1.5h-1.5zM164 233h1.5v1.5h-1.5zM214 254h1.5v1.5h-1.5zM159 225h2v2h-2zM190 220h1v1h-1zM196 250h1v1h-1zM213 199h2v2h-2zM165 210h1v1h-1zM201 214h2v2h-2zM171 206h1.5v1.5h-1.5zM210 252h2v2h-2zM180 199h1v1h-1zM192 252h1.5v1.5h-1.5zM186 257h1v1h-1zM269 250h1.5v1.5h-1.5zM249 219h1.5v1.5h-1.5zM252 203h1.5v1.5h-1.5zM266 195h1.5v1.5h-1.5zM261 242h2v2h-2zM225 225h1v1h-1zM228 244h1v1h-1zM266 217h1v1h-1zM267 256h1v1h-1zM234 243h1.5v1.5h-1.5zM232 222h1v1h-1zM284 228h1.5v1.5h-1.5zM262 199h1.5v1.5h-1.5zM263 198h1.5v1.5h-1.5zM283 204h1.5v1.5h-1.5zM280 253h2v2h-2zM247 224h1v1h-1zM252 257h1v1h-1zM244 224h2v2h-2zM285 254h1v1h-1zM253 195h2v2h-2zM232 251h1v1h-1zM265 216h1v1h-1zM286 200h2v2h-2zM257 254h1v1h-1zM331 200h1.5v1.5h-1.5zM337 215h1v1h-1zM342 213h1.5v1.5h-1.5zM348 211h2v2h-2zM357 228h2v2h-2zM358 231h1.5v1.5h-1.5zM293 256h1v1h-1zM338 207h1v1h-1zM320 237h1.5v1.5h-1.5zM307 205h1.5v1.5h-1.5zM312 206h1v1h-1zM310 225h1v1h-1zM329 258h1v1h-1zM339 195h1v1h-1zM332 248h2v2h-2zM330 191h1v1h-1zM298 236h1v1h-1zM334 232h1v1h-1zM355 200h1.5v1.5h-1.5zM307 220h1.5v1.5h-1.5zM323 198h1v1h-1zM310 218h1v1h-1zM317 205h1.5v1.5h-1.5zM326 203h2v2h-2zM312 221h1v1h-1z"/>
<path fill="#5a88ff" fill-opacity="0.4" d="M26 234h1.5v1.5h-1.5zM35 256h1v1h-1zM9 204h1v1h-1zM53 237h1.5v1.5h-1.5zM78 258h1v1h-1zM63 194h1v1h-1zM16 245h1v1h-1zM21 240h1.5v1.5h-1.5zM19 236h1.5v1.5h-1.5zM50 197h1.5v1.5h-1.5zM56 216h1.5v1.5h-1.5zM20 201h1.5v1.5h-1.5zM14 206h2v2h-2zM57 258h1.5v1.5h-1.5zM45 222h1.5v1.5h-1.5zM41 194h1v1h-1zM40 231h1.5v1.5h-1.5zM38 255h1.5v1.5h-1.5zM54 219h1v1h-1zM16 219h2v2h-2zM78 199h1.5v1.5h-1.5zM50 234h1v1h-1zM26 252h1.5v1.5h-1.5zM69 200h1.5v1.5h-1.5zM146 204h1v1h-1zM143 200h1.5v1.5h-1.5zM137 240h1v1h-1zM133 233h1v1h-1zM105 257h1.5v1.5h-1.5zM100 214h1v1h-1zM95 238h1.5v1.5h-1.5zM81 233h1.5v1.5h-1.5zM110 196h1v1h-1zM101 203h2v2h-2zM91 252h1.5v1.5h-1.5zM136 227h1.5v1.5h-1.5zM96 200h2v2h-2zM100 198h1.5v1.5h-1.5zM118 214h1v1h-1zM82 245h1.5v1.5h-1.5zM102 238h1v1h-1zM84 205h1v1h-1zM108 255h2v2h-2zM136 236h1.5v1.5h-1.5zM147 207h1v1h-1zM102 219h1.5v1.5h-1.5zM80 227h1v1h-1zM121 211h1.5v1.5h-1.5zM117 206h1.5v1.5h-1.5zM118 253h1v1h-1zM189 203h1v1h-1zM199 191h1.5v1.5h-1.5zM178 238h1.5v1.5h-1.5zM169 222h2v2h-2zM162 235h1v1h-1zM195 252h1.5v1.5h-1.5zM212 244h2v2h-2zM200 214h1.5v1.5h-1.5zM207 251h1.5v1.5h-1.5zM210 198h1.5v1.5h-1.5zM192 205h1.5v1.5h-1.5zM208 214h2v2h-2zM183 202h1v1h-1zM217 203h1.5v1.5h-1.5zM218 239h1.5v1.5h-1.5zM202 237h1v1h-1zM218 195h2v2h-2zM161 221h1v1h-1zM273 227h1v1h-1zM287 199h1.5v1.5h-1.5zM251 214h1.5v1.5h-1.5zM257 207h2v2h-2zM256 234h1.5v1.5h-1.5zM272 239h1v1h-1zM249 204h1v1h-1zM247 240h1v1h-1zM227 227h1.5v1.5h-1.5zM259 221h1.5v1.5h-1.5zM222 194h1.5v1.5h-1.5zM246 221h1.5v1.5h-1.5zM239 224h2v2h-2zM269 194h1.5v1.5h-1.5zM231 251h1v1h-1zM251 232h1.5v1.5h-1.5zM288 188h1.5v1.5h-1.5zM233 235h1v1h-1zM279 197h2v2h-2zM265 253h1.5v1.5h-1.5zM267 242h2v2h-2zM222 200h1.5v1.5h-1.5zM242 254h1.5v1.5h-1.5zM249 210h2v2h-2zM219 221h1v1h-1zM252 210h2v2h-2zM278 189h1.5v1.5h-1.5zM278 239h1v1h-1zM351 225h1v1h-1zM318 255h1v1h-1zM308 201h1.5v1.5h-1.5zM355 209h1v1h-1zM346 254h1.5v1.5h-1.5zM306 248h1v1h-1zM305 212h1.5v1.5h-1.5zM299 203h1.5v1.5h-1.5zM343 244h1.5v1.5h-1.5zM335 205h1.5v1.5h-1.5zM348 258h1v1h-1zM332 194h2v2h-2zM325 218h1.5v1.5h-1.5zM322 215h2v2h-2zM341 213h1.5v1.5h-1.5zM317 230h1v1h-1zM300 226h1v1h-1zM305 199h2v2h-2zM329 210h1.5v1.5h-1.5zM342 256h1v1h-1zM300 229h1.5v1.5h-1.5zM299 222h2v2h-2zM307 250h2v2h-2z"/>
<path fill="#3050f8" fill-opacity="0.55" d="M60 213h1v1h-1zM12 251h1v1h-1zM26 206h1v1h-1zM69 254h2v2h-2zM21 242h1.5v1.5h-1.5zM35 213h1v1h-1zM44 211h1v1h-1zM54 250h1.5v1.5h-1.5zM20 217h1.5v1.5h-1.5zM50 198h1v1h-1zM54 195h1v1h-1zM75 258h1.5v1.5h-1.5zM48 195h1v1h-1zM41 255h2v2h-2zM21 246h1v1h-1zM46 208h2v2h-2zM42 238h1.5v1.5h-1.5zM60 203h1.5v1.5h-1.5zM72 248h1.5v1.5h-1.5zM26 219h1v1h-1zM69 203h1.5v1.5h-1.5zM63 246h1v1h-1zM54 246h1v1h-1zM16 244h2v2h-2zM59 190h1v1h-1zM139 222h1v1h-1zM96 224h1v1h-1zM134 238h1v1h-1zM140 193h1.5v1.5h-1.5zM92 249h1.5v1.5h-1.5zM148 222h1.5v1.5h-1.5zM98 226h1v1h-1zM131 241h2v2h-2zM108 200h1.5v1.5h-1.5zM92 245h1v1h-1zM96 226h1.5v1.5h-1.5zM139 202h1.5v1.5h-1.5zM106 228h1.5v1.5h-1.5zM117 195h1.5v1.5h-1.5zM104 237h2v2h-2zM142 247h2v2h-2zM143 243h2v2h-2zM119 254h1v1h-1zM147 247h1v1h-1zM81 246h2v2h-2zM84 200h1.5v1.5h-1.5zM108 222h1v1h-1zM135 193h1v1h-1zM112 251h1.5v1.5h-1.5zM102 234h1v1h-1zM96 244h1.5v1.5h-1.5zM84 249h1.5v1.5h-1.5zM179 217h1v1h-1zM158 229h1v1h-1zM197 227h1v1h-1zM214 241h1.5v1.5h-1.5zM168 232h1.5v1.5h-1.5zM214 214h1v1h-1zM182 207h1.5v1.5h-1.5zM158 245h1.5v1.5h-1.5zM182 230h1.5v1.5h-1.5zM181 239h1v1h-1zM200 191h1v1h-1zM173 213h1.5v1.5h-1.5zM186 210h1v1h-1zM180 220h1v1h-1zM174 215h2v2h-2zM172 245h1v1h-1zM217 231h1v1h-1zM214 232h1.5v1.5h-1.5zM267 249h1v1h-1zM249 238h2v2h-2zM243 253h1v1h-1zM285 252h1v1h-1zM275 190h1.5v1.5h-1.5zM251 245h1v1h-1zM240 253h1.5v1.5h-1.5zM234 257h1.5v1.5h-1.5zM244 209h1.5v1.5h-1.5zM257 198h1.5v1.5h-1.5zM248 199h1.5v1.5h-1.5zM283 223h1v1h-1zM223 230h1.5v1.5h-1.5zM273 228h1.5v1.5h-1.5zM281 244h1.5v1.5h-1.5zM219 196h1v1h-1zM238 254h1.5v1.5h-1.5zM266 215h1.5v1.5h-1.5zM250 232h2v2h-2zM242 225h1v1h-1zM239 216h1v1h-1zM222 200h1v1h-1zM279 202h1.5v1.5h-1.5zM271 235h2v2h-2zM285 241h1v1h-1zM228 250h1v1h-1zM235 231h1.5v1.5h-1.5zM246 216h1.5v1.5h-1.5zM269 256h1.5v1.5h-1.5zM265 200h1v1h-1zM253 241h1.5v1.5h-1.5zM268 198h1v1h-1zM265 196h1.5v1.5h-1.5zM261 227h2v2h-2zM231 252h1v1h-1zM347 211h1.5v1.5h-1.5zM301 225h1.5v1.5h-1.5zM324 232h1.5v1.5h-1.5zM340 190h1.5v1.5h-1.5zM319 251h1.5v1.5h-1.5zM299 223h1v1h-1zM321 205h2v2h-2zM289 223h1.5v1.5h-1.5zM358 244h1v1h-1zM352 190h1.5v1.5h-1.5zM322 251h1v1h-1zM322 189h1v1h-1zM301 241h1v1h-1zM322 211h1.5v1.5h-1.5zM339 212h1.5v1.5h-1.5zM327 226h1.5v1.5h-1.5zM300 253h1v1h-1zM297 233h1.5v1.5h-1.5zM304 232h1.5v1.5h-1.5zM293 200h1.5v1.5h-1.5zM293 247h1v1h-1zM306 229h1.5v1.5h-1.5zM319 234h1v1h-1zM349 194h2v2h-2zM337 206h1v1h-1zM358 256h1v1h-1zM321 195h1.5v1.5h-1.5z"/>
<path fill="#5a88ff" fill-opacity="0.55" d="M50 254h1.5v1.5h-1.5zM42 193h1.5v1.5h-1.5zM38 222h1v1h-1zM13 221h1.5v1.5h-1.5zM25 210h1.5v1.5h-1.5zM57 210h1v1h-1zM42 243h1v1h-1zM60 227h1.5v1.5h-1.5zM78 218h1v1h-1zM44 208h1v1h-1zM51 227h1v1h-1zM59 192h1.5v1.5h-1.5zM66 195h1v1h-1zM65 249h1v1h-1zM40 242h1v1h-1zM31 246h1.5v1.5h-1.5zM71 220h2v2h-2zM105 195h1.5v1.5h-1.5zM135 200h1v1h-1zM100 224h1.5v1.5h-1.5zM90 225h1v1h-1zM110 249h1.5v1.5h-1.5zM132 236h1v1h-1zM142 190h1v1h-1zM134 239h1v1h-1zM135 221h1.5v1.5h-1.5zM116 222h1v1h-1zM114 253h1v1h-1zM145 248h1.5v1.5h-1.5zM124 226h1v1h-1zM105 258h1.5v1.5h-1.5zM116 193h1v1h-1zM103 190h1v1h-1zM120 212h1v1h-1zM147 253h1.5v1.5h-1.5zM131 204h1.5v1.5h-1.5zM118 216h1v1h-1zM96 229h1.5v1.5h-1.5zM80 227h1v1h-1zM80 203h1.5v1.5h-1.5zM128 197h1v1h-1zM191 240h2v2h-2zM214 251h2v2h-2zM185 196h1v1h-1zM170 214h1v1h-1zM177 193h1.5v1.5h-1.5zM217 249h1.5v1.5h-1.5zM157 249h1v1h-1zM207 199h2v2h-2zM206 250h1v1h-1zM183 199h1v1h-1zM158 213h1.5v1.5h-1.5zM151 243h1v1h-1zM200 191h1.5v1.5h-1.5zM186 222h1.5v1.5h-1.5zM183 207h2v2h-2zM169 196h1.5v1.5h-1.5zM149 240h2v2h-2zM177 218h1v1h-1zM175 230h2v2h-2zM187 211h1v1h-1zM153 193h2v2h-2zM211 228h1.5v1.5h-1.5zM181 189h1v1h-1zM185 240h1v1h-1zM207 218h1v1h-1zM213 253h1v1h-1zM172 214h1v1h-1zM200 199h2v2h-2zM155 240h1.5v1.5h-1.5zM259 232h1v1h-1zM240 242h2v2h-2zM226 246h1v1h-1zM274 254h1.5v1.5h-1.5zM287 211h1v1h-1zM237 238h2v2h-2zM284 230h1.5v1.5h-1.5zM246 250h1.5v1.5h-1.5zM238 214h1v1h-1zM248 244h1.5v1.5h-1.5zM260 231h1v1h-1zM230 212h1.5v1.5h-1.5zM283 244h1v1h-1zM242 215h1.5v1.5h-1.5zM244 226h1.5v1.5h-1.5zM256 232h1.5v1.5h-1.5zM231 205h1.5v1.5h-1.5zM226 228h1v1h-1zM229 212h1v1h-1zM288 256h1v1h-1zM286 204h1v1h-1zM271 239h1v1h-1zM220 248h1v1h-1zM269 207h1.5v1.5h-1.5zM340 256h1.5v1.5h-1.5zM303 191h1.5v1.5h-1.5zM296 198h1v1h-1zM323 214h1v1h-1zM331 250h1.5v1.5h-1.5zM299 203h1v1h-1zM291 256h1v1h-1zM353 232h2v2h-2zM310 235h1.5v1.5h-1.5zM353 199h2v2h-2zM355 256h1.5v1.5h-1.5zM298 228h1v1h-1zM341 200h1v1h-1zM319 207h1v1h-1zM331 230h1.5v1.5h-1.5zM296 202h1v1h-1zM316 254h2v2h-2z"/>
<path fill="#5a88ff" fill-opacity="0.7" d="M31 243h2v2h-2zM76 230h1.5v1.5h-1.5zM34 218h1v1h-1zM17 248h1.5v1.5h-1.5zM45 197h1v1h-1zM44 208h2v2h-2zM63 254h1v1h-1zM74 207h1.5v1.5h-1.5zM37 238h1.5v1.5h-1.5zM28 192h1v1h-1zM65 245h1.5v1.5h-1.5zM65 196h1v1h-1zM62 240h1v1h-1zM27 247h1v1h-1zM40 252h1v1h-1zM56 228h2v2h-2zM141 221h1v1h-1zM92 238h1v1h-1zM131 203h1.5v1.5h-1.5zM119 249h1.5v1.5h-1.5zM118 222h1v1h-1zM112 250h1v1h-1zM96 224h1.5v1.5h-1.5zM140 254h1.5v1.5h-1.5zM140 190h2v2h-2zM98 252h1v1h-1zM105 243h1v1h-1zM86 249h1v1h-1zM103 217h1v1h-1zM108 207h1.5v1.5h-1.5zM87 250h1v1h-1zM137 254h1v1h-1zM80 224h1.5v1.5h-1.5zM181 255h1v1h-1zM155 218h1v1h-1zM160 252h1v1h-1zM157 189h1v1h-1zM217 206h1.5v1.5h-1.5zM194 198h1v1h-1zM196 197h1.5v1.5h-1.5zM169 203h1v1h-1zM167 222h1v1h-1zM182 238h1v1h-1zM177 224h1v1h-1zM215 243h2v2h-2zM202 212h2v2h-2zM174 199h1.5v1.5h-1.5zM158 227h1.5v1.5h-1.5zM213 219h2v2h-2zM160 196h1.5v1.5h-1.5zM168 253h1.5v1.5h-1.5zM188 253h1.5v1.5h-1.5zM186 242h2v2h-2zM156 248h1.5v1.5h-1.5zM199 252h1v1h-1zM209 195h1.5v1.5h-1.5zM159 255h2v2h-2zM233 250h1.5v1.5h-1.5zM224 213h1.5v1.5h-1.5zM244 203h1.5v1.5h-1.5zM287 203h1v1h-1zM288 241h2v2h-2zM224 204h1v1h-1zM266 203h1v1h-1zM283 258h1v1h-1zM223 230h1.5v1.5h-1.5zM221 191h1v1h-1zM268 227h1v1h-1zM269 212h2v2h-2zM238 209h1.5v1.5h-1.5zM222 224h1.5v1.5h-1.5zM276 218h1v1h-1zM266 197h1v1h-1zM225 253h1v1h-1zM223 255h1v1h-1zM271 219h1.5v1.5h-1.5zM287 202h1v1h-1zM273 258h2v2h-2zM308 220h1v1h-1zM322 250h2v2h-2zM322 241h1.5v1.5h-1.5zM307 202h1v1h-1zM326 223h1v1h-1zM332 221h1v1h-1zM321 228h1.5v1.5h-1.5zM344 217h1v1h-1zM327 197h2v2h-2zM298 196h1.5v1.5h-1.5zM291 224h1v1h-1zM349 227h1.5v1.5h-1.5zM321 196h1v1h-1zM358 202h1v1h-1zM293 238h2v2h-2zM314 212h1.5v1.5h-1.5zM311 221h1.5v1.5h-1.5zM307 238h1v1h-1zM320 196h1.5v1.5h-1.5zM309 213h1.5v1.5h-1.5zM311 192h1v1h-1zM350 202h1v1h-1zM334 210h1v1h-1zM337 204h1.5v1.5h-1.5zM305 248h1v1h-1zM307 255h1.5v1.5h-1.5zM293 235h1v1h-1zM341 256h1.5v1.5h-1.5z"/>
<path fill="#4060ff" fill-opacity="0.5" d="M382 237h1.5v1.5h-1.5zM366 228h1v1h-1zM404 213h1v1h-1zM364 243h1v1h-1zM396 247h1.5v1.5h-1.5z"/>
<path fill="#3040f0" fill-opacity="0.5" d="M396 199h2v2h-2zM409 254h1.5v1.5h-1.5z"/>
<path fill="#3040f0" fill-opacity="0.7" d="M386 253h1v1h-1zM378 213h1v1h-1z"/>
<path fill="#3040f0" fill-opacity="0.3" d="M422 201h1.5v1.5h-1.5zM394 214h1.5v1.5h-1.5zM381 226h2v2h-2zM369 209h1v1h-1zM369 246h1v1h-1z"/>
<path fill="#4060ff" fill-opacity="0.3" d="M414 214h2v2h-2z"/>
<path fill="#4060ff" fill-opacity="0.7" d="M376 204h1.5v1.5h-1.5zM406 198h1v1h-1zM382 230h1.5v1.5h-1.5z"/>
</g>
<g filter="url(#bl3)">
<rect x="41.4" y="215.8" width="6.6" height="17.0" fill="#2c8cff" opacity="0.45"/>
<rect x="111.7" y="215.8" width="6.6" height="17.0" fill="#2c8cff" opacity="0.45"/>
<rect x="181.2" y="215.8" width="6.6" height="17.0" fill="#2c8cff" opacity="0.45"/>
<rect x="251.2" y="215.8" width="6.6" height="17.0" fill="#2c8cff" opacity="0.45"/>
<rect x="321.7" y="215.8" width="6.6" height="17.0" fill="#2c8cff" opacity="0.45"/>
<rect x="390.4" y="215.8" width="5.2" height="17.0" fill="#2c8cff" opacity="0.45"/>
</g><g filter="url(#bl)">
<rect x="43.2" y="217.2" width="3.0" height="14.2" fill="#b8f040"/>
<rect x="113.5" y="217.2" width="3.0" height="14.2" fill="#b8f040"/>
<rect x="183.0" y="217.2" width="3.0" height="14.2" fill="#b8f040"/>
<rect x="253.0" y="217.2" width="3.0" height="14.2" fill="#b8f040"/>
<rect x="323.5" y="217.2" width="3.0" height="14.2" fill="#70e870"/>
<rect x="392.2" y="217.2" width="1.6" height="14.2" fill="#30a8ff"/>
</g><g filter="url(#bl2)">
<ellipse cx="44.0" cy="218.1" rx="1.7" ry="1.25" fill="#b8f040"/>
<ellipse cx="45.8" cy="220.2" rx="1.5" ry="1.25" fill="#e8e820"/>
<ellipse cx="43.6" cy="222.2" rx="1.4" ry="1.25" fill="#70e870"/>
<ellipse cx="45.4" cy="224.3" rx="1.6" ry="1.25" fill="#b8f040"/>
<ellipse cx="43.6" cy="226.4" rx="1.5" ry="1.25" fill="#f0a010"/>
<ellipse cx="45.5" cy="228.4" rx="1.6" ry="1.25" fill="#f05010"/>
<ellipse cx="43.6" cy="230.5" rx="1.6" ry="1.25" fill="#50e8f8"/>
<ellipse cx="114.3" cy="218.1" rx="1.5" ry="1.25" fill="#b8f040"/>
<ellipse cx="115.9" cy="220.2" rx="1.6" ry="1.25" fill="#f0a010"/>
<ellipse cx="114.0" cy="222.2" rx="1.7" ry="1.25" fill="#e8e820"/>
<ellipse cx="116.1" cy="224.3" rx="1.5" ry="1.25" fill="#b8f040"/>
<ellipse cx="114.1" cy="226.4" rx="1.4" ry="1.25" fill="#f0a010"/>
<ellipse cx="115.9" cy="228.4" rx="1.5" ry="1.25" fill="#f05010"/>
<ellipse cx="114.3" cy="230.5" rx="1.6" ry="1.25" fill="#b8f040"/>
<ellipse cx="183.8" cy="218.1" rx="1.6" ry="1.25" fill="#70e870"/>
<ellipse cx="185.6" cy="220.2" rx="1.5" ry="1.25" fill="#f0a010"/>
<ellipse cx="183.7" cy="222.2" rx="1.4" ry="1.25" fill="#e8e820"/>
<ellipse cx="185.3" cy="224.3" rx="1.7" ry="1.25" fill="#b8f040"/>
<ellipse cx="183.8" cy="226.4" rx="1.5" ry="1.25" fill="#e8e820"/>
<ellipse cx="185.4" cy="228.4" rx="1.5" ry="1.25" fill="#f0a010"/>
<ellipse cx="183.7" cy="230.5" rx="1.6" ry="1.25" fill="#70e870"/>
<ellipse cx="253.5" cy="218.1" rx="1.7" ry="1.25" fill="#50e8f8"/>
<ellipse cx="255.4" cy="220.2" rx="1.6" ry="1.25" fill="#b8f040"/>
<ellipse cx="253.7" cy="222.2" rx="1.7" ry="1.25" fill="#e8e820"/>
<ellipse cx="255.4" cy="224.3" rx="1.6" ry="1.25" fill="#b8f040"/>
<ellipse cx="253.7" cy="226.4" rx="1.5" ry="1.25" fill="#70e870"/>
<ellipse cx="255.2" cy="228.4" rx="1.6" ry="1.25" fill="#b8f040"/>
<ellipse cx="253.7" cy="230.5" rx="1.6" ry="1.25" fill="#70e870"/>
<ellipse cx="324.3" cy="218.1" rx="1.5" ry="1.25" fill="#b8f040"/>
<ellipse cx="326.1" cy="220.2" rx="1.6" ry="1.25" fill="#70e870"/>
<ellipse cx="324.3" cy="222.2" rx="1.6" ry="1.25" fill="#50e8f8"/>
<ellipse cx="326.1" cy="224.3" rx="1.4" ry="1.25" fill="#70e870"/>
<ellipse cx="323.9" cy="226.4" rx="1.6" ry="1.25" fill="#b8f040"/>
<ellipse cx="326.0" cy="228.4" rx="1.5" ry="1.25" fill="#f0a010"/>
<ellipse cx="323.9" cy="230.5" rx="1.7" ry="1.25" fill="#e8e820"/>
<ellipse cx="391.9" cy="218.1" rx="1.0" ry="1.25" fill="#50e8f8"/>
<ellipse cx="393.8" cy="220.2" rx="0.9" ry="1.25" fill="#30c8ff"/>
<ellipse cx="392.1" cy="222.2" rx="0.8" ry="1.25" fill="#50e8f8"/>
<ellipse cx="393.8" cy="224.3" rx="0.8" ry="1.25" fill="#30c8ff"/>
<ellipse cx="392.1" cy="226.4" rx="0.8" ry="1.25" fill="#50e8f8"/>
<ellipse cx="393.9" cy="228.4" rx="0.8" ry="1.25" fill="#70e870"/>
<ellipse cx="391.9" cy="230.5" rx="0.9" ry="1.25" fill="#30c8ff"/>
</g></g>
<rect x="9" y="188.2" width="419" height="1.2" fill="#04047c"/>
<text x="11.8" y="201.9" font-size="12.05" font-weight="bold" fill="#fff" stroke="#fff" stroke-width="0.25">(d) Hybrid speckle pattern - Type two</text>
<text x="44.5" y="98.3" font-size="10.6" text-anchor="middle" fill="#1a1a1a" stroke="#1a1a1a" stroke-width="0.25">30μm</text>
<text x="113" y="98.3" font-size="10.6" text-anchor="middle" fill="#1a1a1a" stroke="#1a1a1a" stroke-width="0.25">36μm</text>
<text x="180.5" y="98.3" font-size="10.6" text-anchor="middle" fill="#1a1a1a" stroke="#1a1a1a" stroke-width="0.25">42μm</text>
<text x="251.4" y="98.3" font-size="10.6" text-anchor="middle" fill="#1a1a1a" stroke="#1a1a1a" stroke-width="0.25">48μm</text>
<text x="320" y="98.3" font-size="10.6" text-anchor="middle" fill="#1a1a1a" stroke="#1a1a1a" stroke-width="0.25">54μm</text>
<text x="388" y="98.3" font-size="10.6" text-anchor="middle" fill="#1a1a1a" stroke="#1a1a1a" stroke-width="0.25">60μm</text>
<text x="43.9" y="184.5" font-size="10.6" text-anchor="middle" fill="#1a1a1a" stroke="#1a1a1a" stroke-width="0.25">30μm+30μm</text>
<text x="112.7" y="184.5" font-size="10.6" text-anchor="middle" fill="#1a1a1a" stroke="#1a1a1a" stroke-width="0.25">36μm+36μm</text>
<text x="182.25" y="184.5" font-size="10.6" text-anchor="middle" fill="#1a1a1a" stroke="#1a1a1a" stroke-width="0.25">42μm+42μm</text>
<text x="251.5" y="184.5" font-size="10.6" text-anchor="middle" fill="#1a1a1a" stroke="#1a1a1a" stroke-width="0.25">48μm+48μm</text>
<text x="322.7" y="184.5" font-size="10.6" text-anchor="middle" fill="#1a1a1a" stroke="#1a1a1a" stroke-width="0.25">54μm+54μm</text>
<text x="392.2" y="184.5" font-size="10.6" text-anchor="middle" fill="#1a1a1a" stroke="#1a1a1a" stroke-width="0.25">60μm+60μm</text>
<text x="44.15" y="268.8" font-size="10.6" text-anchor="middle" fill="#1a1a1a" stroke="#1a1a1a" stroke-width="0.25">30μm+36μm</text>
<text x="114.15" y="268.8" font-size="10.6" text-anchor="middle" fill="#1a1a1a" stroke="#1a1a1a" stroke-width="0.25">36μm+36μm</text>
<text x="183.85" y="268.8" font-size="10.6" text-anchor="middle" fill="#1a1a1a" stroke="#1a1a1a" stroke-width="0.25">42μm+36μm</text>
<text x="253.65" y="268.8" font-size="10.6" text-anchor="middle" fill="#1a1a1a" stroke="#1a1a1a" stroke-width="0.25">48μm+36μm</text>
<text x="324.15" y="268.8" font-size="10.6" text-anchor="middle" fill="#1a1a1a" stroke="#1a1a1a" stroke-width="0.25">54μm+36μm</text>
<text x="394.1" y="268.8" font-size="10.6" text-anchor="middle" fill="#1a1a1a" stroke="#1a1a1a" stroke-width="0.25">60μm+36μm</text>
<line x1="44" y1="514.0" x2="47.8" y2="514.0" stroke="#5a5a5a" stroke-width="1"/>
<line x1="44" y1="497.5" x2="46.8" y2="497.5" stroke="#5a5a5a" stroke-width="1"/>
<line x1="44" y1="481.0" x2="47.8" y2="481.0" stroke="#5a5a5a" stroke-width="1"/>
<line x1="44" y1="464.5" x2="46.8" y2="464.5" stroke="#5a5a5a" stroke-width="1"/>
<line x1="44" y1="448.0" x2="47.8" y2="448.0" stroke="#5a5a5a" stroke-width="1"/>
<line x1="44" y1="431.5" x2="46.8" y2="431.5" stroke="#5a5a5a" stroke-width="1"/>
<line x1="44" y1="415.0" x2="47.8" y2="415.0" stroke="#5a5a5a" stroke-width="1"/>
<line x1="44" y1="398.5" x2="46.8" y2="398.5" stroke="#5a5a5a" stroke-width="1"/>
<line x1="44" y1="382.0" x2="47.8" y2="382.0" stroke="#5a5a5a" stroke-width="1"/>
<line x1="44" y1="365.5" x2="46.8" y2="365.5" stroke="#5a5a5a" stroke-width="1"/>
<line x1="44" y1="349.0" x2="47.8" y2="349.0" stroke="#5a5a5a" stroke-width="1"/>
<line x1="44" y1="332.5" x2="46.8" y2="332.5" stroke="#5a5a5a" stroke-width="1"/>
<line x1="44" y1="316.0" x2="47.8" y2="316.0" stroke="#5a5a5a" stroke-width="1"/>
<line x1="44" y1="299.5" x2="46.8" y2="299.5" stroke="#5a5a5a" stroke-width="1"/>
<line x1="44" y1="283.0" x2="47.8" y2="283.0" stroke="#5a5a5a" stroke-width="1"/>
<line x1="68.6" y1="514" x2="68.6" y2="510.20000000000005" stroke="#5a5a5a" stroke-width="1"/>
<line x1="93.2" y1="514" x2="93.2" y2="511.20000000000005" stroke="#5a5a5a" stroke-width="1"/>
<line x1="117.8" y1="514" x2="117.8" y2="510.20000000000005" stroke="#5a5a5a" stroke-width="1"/>
<line x1="142.4" y1="514" x2="142.4" y2="511.20000000000005" stroke="#5a5a5a" stroke-width="1"/>
<line x1="167.0" y1="514" x2="167.0" y2="510.20000000000005" stroke="#5a5a5a" stroke-width="1"/>
<line x1="191.6" y1="514" x2="191.6" y2="511.20000000000005" stroke="#5a5a5a" stroke-width="1"/>
<line x1="216.2" y1="514" x2="216.2" y2="510.20000000000005" stroke="#5a5a5a" stroke-width="1"/>
<line x1="240.9" y1="514" x2="240.9" y2="511.20000000000005" stroke="#5a5a5a" stroke-width="1"/>
<line x1="265.5" y1="514" x2="265.5" y2="510.20000000000005" stroke="#5a5a5a" stroke-width="1"/>
<line x1="290.1" y1="514" x2="290.1" y2="511.20000000000005" stroke="#5a5a5a" stroke-width="1"/>
<line x1="314.7" y1="514" x2="314.7" y2="510.20000000000005" stroke="#5a5a5a" stroke-width="1"/>
<line x1="339.3" y1="514" x2="339.3" y2="511.20000000000005" stroke="#5a5a5a" stroke-width="1"/>
<line x1="363.9" y1="514" x2="363.9" y2="510.20000000000005" stroke="#5a5a5a" stroke-width="1"/>
<line x1="388.5" y1="514.0" x2="384.7" y2="514.0" stroke="#3aa050" stroke-width="1"/>
<line x1="388.5" y1="497.5" x2="385.7" y2="497.5" stroke="#3aa050" stroke-width="1"/>
<line x1="388.5" y1="481.0" x2="384.7" y2="481.0" stroke="#3aa050" stroke-width="1"/>
<line x1="388.5" y1="464.5" x2="385.7" y2="464.5" stroke="#3aa050" stroke-width="1"/>
<line x1="388.5" y1="448.0" x2="384.7" y2="448.0" stroke="#3aa050" stroke-width="1"/>
<line x1="388.5" y1="431.5" x2="385.7" y2="431.5" stroke="#3aa050" stroke-width="1"/>
<line x1="388.5" y1="415.0" x2="384.7" y2="415.0" stroke="#3aa050" stroke-width="1"/>
<line x1="388.5" y1="398.5" x2="385.7" y2="398.5" stroke="#3aa050" stroke-width="1"/>
<line x1="388.5" y1="382.0" x2="384.7" y2="382.0" stroke="#3aa050" stroke-width="1"/>
<line x1="388.5" y1="365.5" x2="385.7" y2="365.5" stroke="#3aa050" stroke-width="1"/>
<line x1="388.5" y1="349.0" x2="384.7" y2="349.0" stroke="#3aa050" stroke-width="1"/>
<line x1="388.5" y1="332.5" x2="385.7" y2="332.5" stroke="#3aa050" stroke-width="1"/>
<line x1="388.5" y1="316.0" x2="384.7" y2="316.0" stroke="#3aa050" stroke-width="1"/>
<line x1="388.5" y1="299.5" x2="385.7" y2="299.5" stroke="#3aa050" stroke-width="1"/>
<line x1="388.5" y1="283.0" x2="384.7" y2="283.0" stroke="#3aa050" stroke-width="1"/>
<path d="M388.5,283 H44 V514 H388.5" fill="none" stroke="#7e7e7e" stroke-width="1.6"/>
<line x1="388.5" y1="282.2" x2="388.5" y2="514.8" stroke="#3aa050" stroke-width="1.6"/>
<text x="40" y="517.2" font-size="10.6" text-anchor="end" fill="#222" stroke="#222" stroke-width="0.25">0.0</text>
<text x="40" y="484.2" font-size="10.6" text-anchor="end" fill="#222" stroke="#222" stroke-width="0.25">0.2</text>
<text x="40" y="451.2" font-size="10.6" text-anchor="end" fill="#222" stroke="#222" stroke-width="0.25">0.4</text>
<text x="40" y="418.2" font-size="10.6" text-anchor="end" fill="#222" stroke="#222" stroke-width="0.25">0.6</text>
<text x="40" y="385.2" font-size="10.6" text-anchor="end" fill="#222" stroke="#222" stroke-width="0.25">0.8</text>
<text x="40" y="352.2" font-size="10.6" text-anchor="end" fill="#222" stroke="#222" stroke-width="0.25">1.0</text>
<text x="40" y="319.2" font-size="10.6" text-anchor="end" fill="#222" stroke="#222" stroke-width="0.25">1.2</text>
<text x="40" y="286.2" font-size="10.6" text-anchor="end" fill="#222" stroke="#222" stroke-width="0.25">1.4</text>
<text x="68.6" y="525.3" font-size="10.4" text-anchor="middle" fill="#222" stroke="#222" stroke-width="0.25">30</text>
<text x="117.8" y="525.3" font-size="10.4" text-anchor="middle" fill="#222" stroke="#222" stroke-width="0.25">35</text>
<text x="167.0" y="525.3" font-size="10.4" text-anchor="middle" fill="#222" stroke="#222" stroke-width="0.25">40</text>
<text x="216.2" y="525.3" font-size="10.4" text-anchor="middle" fill="#222" stroke="#222" stroke-width="0.25">45</text>
<text x="265.5" y="525.3" font-size="10.4" text-anchor="middle" fill="#222" stroke="#222" stroke-width="0.25">50</text>
<text x="314.7" y="525.3" font-size="10.4" text-anchor="middle" fill="#222" stroke="#222" stroke-width="0.25">55</text>
<text x="363.9" y="525.3" font-size="10.4" text-anchor="middle" fill="#222" stroke="#222" stroke-width="0.25">60</text>
<text x="392.8" y="516.9" font-size="11.2" fill="#2a8a3a" stroke="#2a8a3a" stroke-width="0.25">20</text>
<text x="392.8" y="483.9" font-size="11.2" fill="#2a8a3a" stroke="#2a8a3a" stroke-width="0.25">40</text>
<text x="392.8" y="450.9" font-size="11.2" fill="#2a8a3a" stroke="#2a8a3a" stroke-width="0.25">60</text>
<text x="392.8" y="417.9" font-size="11.2" fill="#2a8a3a" stroke="#2a8a3a" stroke-width="0.25">80</text>
<text x="392.8" y="384.9" font-size="11.2" fill="#2a8a3a" stroke="#2a8a3a" stroke-width="0.25">100</text>
<text x="392.8" y="351.9" font-size="11.2" fill="#2a8a3a" stroke="#2a8a3a" stroke-width="0.25">120</text>
<text x="392.8" y="318.9" font-size="11.2" fill="#2a8a3a" stroke="#2a8a3a" stroke-width="0.25">140</text>
<text x="392.8" y="285.9" font-size="11.2" fill="#2a8a3a" stroke="#2a8a3a" stroke-width="0.25">160</text>
<text transform="translate(22.7,396.1) rotate(-90)" font-size="13.1" font-weight="bold" text-anchor="middle" fill="#111" stroke="#111" stroke-width="0.3">CNR</text>
<text x="215.8" y="541.1" font-size="14.9" font-weight="bold" text-anchor="middle" fill="#111" stroke="#111" stroke-width="0.3">Speckle Size (μm)</text>
<text transform="translate(414.3,401) rotate(90)" font-size="14.7" font-weight="bold" text-anchor="middle" fill="#1f8a2e" stroke="#1f8a2e" stroke-width="0.3">Resolution (μm)</text>
<text x="376" y="303.3" font-size="15" font-weight="bold" text-anchor="middle" fill="#111" stroke="#111" stroke-width="0.3">(a)</text>
<polyline points="68.6,498.2 127.7,487.6 186.7,481.5 245.8,480.0 304.8,471.9 363.9,467.0" fill="none" stroke="#f5b478" stroke-width="1"/>
<polyline points="68.6,497.5 127.7,487.3 186.7,480.3 245.8,469.8 304.8,464.5 363.9,460.5" fill="none" stroke="#70c8f0" stroke-width="1"/>
<polyline points="68.6,489.4 127.7,474.1 186.7,468.5 245.8,463.3 304.8,455.9 363.9,449.0" fill="none" stroke="#666" stroke-width="1"/>
<path d="M68.6,492.4 V503.9 M65.6,492.4 H71.6 M65.6,503.9 H71.6" stroke="#f0a050" stroke-width="1" fill="none" opacity="0.8"/>
<path d="M127.7,480.3 V494.9 M124.7,480.3 H130.7 M124.7,494.9 H130.7" stroke="#f0a050" stroke-width="1" fill="none" opacity="0.8"/>
<path d="M186.7,474.2 V488.8 M183.7,474.2 H189.7 M183.7,488.8 H189.7" stroke="#f0a050" stroke-width="1" fill="none" opacity="0.8"/>
<path d="M245.8,474.6 V485.5 M242.8,474.6 H248.8 M242.8,485.5 H248.8" stroke="#f0a050" stroke-width="1" fill="none" opacity="0.8"/>
<path d="M304.8,467.8 V476.1 M301.8,467.8 H307.8 M301.8,476.1 H307.8" stroke="#f0a050" stroke-width="1" fill="none" opacity="0.8"/>
<path d="M363.9,462.9 V471.1 M360.9,462.9 H366.9 M360.9,471.1 H366.9" stroke="#f0a050" stroke-width="1" fill="none" opacity="0.8"/>
<path d="M68.6,491.7 V503.3 M65.6,491.7 H71.6 M65.6,503.3 H71.6" stroke="#50b8f0" stroke-width="1" fill="none" opacity="0.8"/>
<path d="M127.7,480.0 V494.5 M124.7,480.0 H130.7 M124.7,494.5 H130.7" stroke="#50b8f0" stroke-width="1" fill="none" opacity="0.8"/>
<path d="M186.7,473.4 V487.3 M183.7,473.4 H189.7 M183.7,487.3 H189.7" stroke="#50b8f0" stroke-width="1" fill="none" opacity="0.8"/>
<path d="M245.8,464.8 V474.7 M242.8,464.8 H248.8 M242.8,474.7 H248.8" stroke="#50b8f0" stroke-width="1" fill="none" opacity="0.8"/>
<path d="M304.8,460.4 V468.6 M301.8,460.4 H307.8 M301.8,468.6 H307.8" stroke="#50b8f0" stroke-width="1" fill="none" opacity="0.8"/>
<path d="M363.9,456.4 V464.7 M360.9,456.4 H366.9 M360.9,464.7 H366.9" stroke="#50b8f0" stroke-width="1" fill="none" opacity="0.8"/>
<path d="M68.6,482.8 V496.0 M65.6,482.8 H71.6 M65.6,496.0 H71.6" stroke="#555" stroke-width="1" fill="none" opacity="0.8"/>
<path d="M127.7,468.1 V480.0 M124.7,468.1 H130.7 M124.7,480.0 H130.7" stroke="#555" stroke-width="1" fill="none" opacity="0.8"/>
<path d="M186.7,468.5 V468.5 M183.7,468.5 H189.7 M183.7,468.5 H189.7" stroke="#555" stroke-width="1" fill="none" opacity="0.8"/>
<path d="M245.8,457.1 V469.6 M242.8,457.1 H248.8 M242.8,469.6 H248.8" stroke="#555" stroke-width="1" fill="none" opacity="0.8"/>
<path d="M304.8,453.4 V458.4 M301.8,453.4 H307.8 M301.8,458.4 H307.8" stroke="#555" stroke-width="1" fill="none" opacity="0.8"/>
<path d="M363.9,446.5 V451.5 M360.9,446.5 H366.9 M360.9,451.5 H366.9" stroke="#555" stroke-width="1" fill="none" opacity="0.8"/>
<circle cx="68.6" cy="497.5" r="3.2" fill="#fff" stroke="#40b0f0" stroke-width="1"/>
<circle cx="127.7" cy="487.3" r="3.2" fill="#fff" stroke="#40b0f0" stroke-width="1"/>
<circle cx="186.7" cy="480.3" r="3.2" fill="#fff" stroke="#40b0f0" stroke-width="1"/>
<circle cx="245.8" cy="469.8" r="3.2" fill="#fff" stroke="#40b0f0" stroke-width="1"/>
<circle cx="304.8" cy="464.5" r="3.2" fill="#fff" stroke="#40b0f0" stroke-width="1"/>
<circle cx="363.9" cy="460.5" r="3.2" fill="#fff" stroke="#40b0f0" stroke-width="1"/>
<path d="M68.6,494.2 L72.4,501.0 L64.8,501.0 Z" fill="none" stroke="#f09030" stroke-width="1" stroke-linejoin="miter"/>
<path d="M127.7,483.6 L131.5,490.5 L123.9,490.5 Z" fill="none" stroke="#f09030" stroke-width="1" stroke-linejoin="miter"/>
<path d="M186.7,477.5 L190.5,484.4 L182.9,484.4 Z" fill="none" stroke="#f09030" stroke-width="1" stroke-linejoin="miter"/>
<path d="M245.8,476.0 L249.6,482.9 L242.0,482.9 Z" fill="none" stroke="#f09030" stroke-width="1" stroke-linejoin="miter"/>
<path d="M304.8,468.0 L308.6,474.8 L301.0,474.8 Z" fill="none" stroke="#f09030" stroke-width="1" stroke-linejoin="miter"/>
<path d="M363.9,463.0 L367.7,469.8 L360.1,469.8 Z" fill="none" stroke="#f09030" stroke-width="1" stroke-linejoin="miter"/>
<rect x="65.8" y="486.6" width="5.6" height="5.6" fill="#fff" stroke="#333" stroke-width="1"/>
<rect x="124.9" y="471.3" width="5.6" height="5.6" fill="#fff" stroke="#333" stroke-width="1"/>
<rect x="183.9" y="465.7" width="5.6" height="5.6" fill="#fff" stroke="#333" stroke-width="1"/>
<rect x="243.0" y="460.5" width="5.6" height="5.6" fill="#fff" stroke="#333" stroke-width="1"/>
<rect x="302.0" y="453.1" width="5.6" height="5.6" fill="#fff" stroke="#333" stroke-width="1"/>
<rect x="361.1" y="446.2" width="5.6" height="5.6" fill="#fff" stroke="#333" stroke-width="1"/>
<polyline points="68.6,323.3 127.7,307.3 186.7,316.5 245.8,329.7 304.8,334.8 363.9,358.9" fill="none" stroke="#666" stroke-width="1"/>
<polyline points="68.6,315.0 127.7,289.6 186.7,306.1 245.8,315.5 304.8,316.5 363.9,330.0" fill="none" stroke="#f5b478" stroke-width="1"/>
<polyline points="68.6,307.8 127.7,290.4 186.7,315.0 245.8,320.6 304.8,327.6 363.9,346.9" fill="none" stroke="#70c8f0" stroke-width="1"/>
<rect x="65.9" y="320.6" width="5.4" height="5.4" fill="#000" stroke="#000" stroke-width="1"/>
<rect x="125.0" y="304.6" width="5.4" height="5.4" fill="#000" stroke="#000" stroke-width="1"/>
<rect x="184.0" y="313.8" width="5.4" height="5.4" fill="#000" stroke="#000" stroke-width="1"/>
<rect x="243.1" y="327.0" width="5.4" height="5.4" fill="#000" stroke="#000" stroke-width="1"/>
<rect x="302.1" y="332.1" width="5.4" height="5.4" fill="#000" stroke="#000" stroke-width="1"/>
<rect x="361.2" y="356.2" width="5.4" height="5.4" fill="#000" stroke="#000" stroke-width="1"/>
<circle cx="68.6" cy="307.8" r="3.2" fill="#1aa0f0" stroke="#1aa0f0" stroke-width="1"/>
<circle cx="127.7" cy="290.4" r="3.2" fill="#1aa0f0" stroke="#1aa0f0" stroke-width="1"/>
<circle cx="186.7" cy="315.0" r="3.2" fill="#1aa0f0" stroke="#1aa0f0" stroke-width="1"/>
<circle cx="245.8" cy="320.6" r="3.2" fill="#1aa0f0" stroke="#1aa0f0" stroke-width="1"/>
<circle cx="304.8" cy="327.6" r="3.2" fill="#1aa0f0" stroke="#1aa0f0" stroke-width="1"/>
<circle cx="363.9" cy="346.9" r="3.2" fill="#1aa0f0" stroke="#1aa0f0" stroke-width="1"/>
<path d="M68.6,311.5 L72.0,317.6 L65.2,317.6 Z" fill="#f07a00" stroke="#e07000" stroke-width="1" stroke-linejoin="miter"/>
<path d="M127.7,286.1 L131.1,292.2 L124.3,292.2 Z" fill="#f07a00" stroke="#e07000" stroke-width="1" stroke-linejoin="miter"/>
<path d="M186.7,302.6 L190.1,308.7 L183.3,308.7 Z" fill="#f07a00" stroke="#e07000" stroke-width="1" stroke-linejoin="miter"/>
<path d="M245.8,312.0 L249.2,318.1 L242.4,318.1 Z" fill="#f07a00" stroke="#e07000" stroke-width="1" stroke-linejoin="miter"/>
<path d="M304.8,312.9 L308.2,319.1 L301.4,319.1 Z" fill="#f07a00" stroke="#e07000" stroke-width="1" stroke-linejoin="miter"/>
<path d="M363.9,326.5 L367.3,332.6 L360.5,332.6 Z" fill="#f07a00" stroke="#e07000" stroke-width="1" stroke-linejoin="miter"/>
<line x1="360.9" y1="330.0" x2="341.5" y2="330.0" stroke="#f08a20" stroke-width="1.4"/>
<path d="M341.5,330.0 l4,-1.8 v3.6 z" fill="#f08a20"/>
<line x1="360.9" y1="346.9" x2="341.5" y2="346.9" stroke="#30a8f0" stroke-width="1.4"/>
<path d="M341.5,346.9 l4,-1.8 v3.6 z" fill="#30a8f0"/>
<line x1="360.9" y1="358.9" x2="341.5" y2="358.9" stroke="#111" stroke-width="1.4"/>
<path d="M341.5,358.9 l4,-1.8 v3.6 z" fill="#111"/>
<line x1="366.9" y1="449.0" x2="382.0" y2="449.0" stroke="#111" stroke-width="1.4"/>
<path d="M382.0,449.0 l-4,-1.8 v3.6 z" fill="#111"/>
<line x1="366.9" y1="460.5" x2="382.0" y2="460.5" stroke="#30a8f0" stroke-width="1.4"/>
<path d="M382.0,460.5 l-4,-1.8 v3.6 z" fill="#30a8f0"/>
<line x1="366.9" y1="467.0" x2="382.0" y2="467.0" stroke="#f08a20" stroke-width="1.4"/>
<path d="M382.0,467.0 l-4,-1.8 v3.6 z" fill="#f08a20"/>
<line x1="60.2" y1="367.5" x2="81.5" y2="367.5" stroke="#6a6a6a" stroke-width="1"/>
<rect x="68.4" y="364.8" width="5.4" height="5.4" fill="#000" stroke="#000" stroke-width="1"/>
<text x="83.6" y="370.6" font-size="9.3" fill="#111" stroke="#111" stroke-width="0.15">Single-size speckle pattern</text>
<line x1="60.2" y1="379" x2="81.5" y2="379" stroke="#7cc8f0" stroke-width="1"/>
<circle cx="71.1" cy="379.0" r="3.2" fill="#1aa0f0" stroke="#1aa0f0" stroke-width="1"/>
<text x="83.6" y="382.1" font-size="9.3" fill="#2a9ee0" stroke="#2a9ee0" stroke-width="0.15">Hybrid speckle pattern - Type one</text>
<line x1="60.2" y1="390.4" x2="81.5" y2="390.4" stroke="#f5c090" stroke-width="1"/>
<path d="M71.1,386.9 L74.5,393.0 L67.7,393.0 Z" fill="#f07a00" stroke="#e07000" stroke-width="1" stroke-linejoin="miter"/>
<text x="83.6" y="393.5" font-size="9.3" fill="#f0922a" stroke="#f0922a" stroke-width="0.15">Hybrid speckle pattern - Type two</text>
<line x1="60.2" y1="401.9" x2="81.5" y2="401.9" stroke="#6a6a6a" stroke-width="1"/>
<rect x="68.3" y="399.1" width="5.6" height="5.6" fill="#fff" stroke="#333" stroke-width="1"/>
<text x="83.6" y="405.0" font-size="9.3" fill="#111" stroke="#111" stroke-width="0.15">Single-size speckle pattern</text>
<line x1="60.2" y1="413.4" x2="81.5" y2="413.4" stroke="#7cc8f0" stroke-width="1"/>
<circle cx="71.1" cy="413.4" r="3.2" fill="#fff" stroke="#40b0f0" stroke-width="1"/>
<text x="83.6" y="416.5" font-size="9.3" fill="#2a9ee0" stroke="#2a9ee0" stroke-width="0.15">Hybrid speckle pattern - Type one</text>
<line x1="60.2" y1="425" x2="81.5" y2="425" stroke="#f5c090" stroke-width="1"/>
<path d="M71.1,421.3 L74.6,427.6 L67.6,427.6 Z" fill="#fff" stroke="#f09030" stroke-width="1" stroke-linejoin="miter"/>
<text x="83.6" y="428.1" font-size="9.3" fill="#f0922a" stroke="#f0922a" stroke-width="0.15">Hybrid speckle pattern - Type two</text>
</svg></body></html>
